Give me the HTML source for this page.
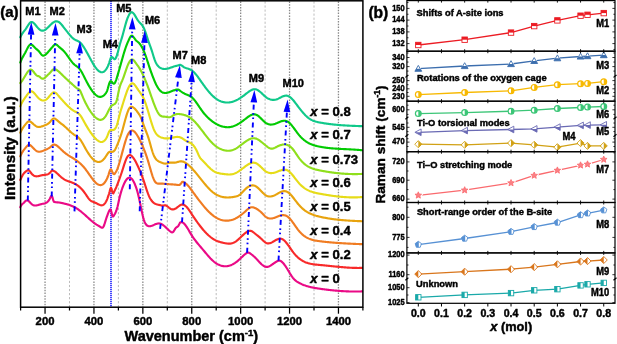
<!DOCTYPE html>
<html><head><meta charset="utf-8">
<style>
html,body{margin:0;padding:0;background:#fff;}
.w{position:absolute;left:0;top:0;width:617px;height:344px;background:#fff;}
svg{display:block;font-family:"Liberation Sans",sans-serif;will-change:transform;}
svg text{stroke:#000;stroke-width:0.45px;stroke-linejoin:round;}
</style></head><body>
<div class="w"></div>
<svg style="position:absolute;left:0;top:0" width="617" height="344" viewBox="0 0 617 344">

<line x1="45.05" y1="1.4" x2="45.05" y2="307.2" stroke="#8a8a8a" stroke-width="1.3" stroke-dasharray="1.5,1.3"/>
<line x1="69.50" y1="1.4" x2="69.50" y2="307.2" stroke="#bcbcbc" stroke-width="1.0" stroke-dasharray="2.2,1.85"/>
<line x1="93.95" y1="1.4" x2="93.95" y2="307.2" stroke="#8a8a8a" stroke-width="1.3" stroke-dasharray="1.5,1.3"/>
<line x1="118.40" y1="1.4" x2="118.40" y2="307.2" stroke="#bcbcbc" stroke-width="1.0" stroke-dasharray="2.2,1.85"/>
<line x1="142.85" y1="1.4" x2="142.85" y2="307.2" stroke="#8a8a8a" stroke-width="1.3" stroke-dasharray="1.5,1.3"/>
<line x1="167.30" y1="1.4" x2="167.30" y2="307.2" stroke="#bcbcbc" stroke-width="1.0" stroke-dasharray="2.2,1.85"/>
<line x1="191.75" y1="1.4" x2="191.75" y2="307.2" stroke="#8a8a8a" stroke-width="1.3" stroke-dasharray="1.5,1.3"/>
<line x1="216.20" y1="1.4" x2="216.20" y2="307.2" stroke="#bcbcbc" stroke-width="1.0" stroke-dasharray="2.2,1.85"/>
<line x1="240.65" y1="1.4" x2="240.65" y2="307.2" stroke="#8a8a8a" stroke-width="1.3" stroke-dasharray="1.5,1.3"/>
<line x1="265.10" y1="1.4" x2="265.10" y2="307.2" stroke="#bcbcbc" stroke-width="1.0" stroke-dasharray="2.2,1.85"/>
<line x1="289.55" y1="1.4" x2="289.55" y2="307.2" stroke="#8a8a8a" stroke-width="1.3" stroke-dasharray="1.5,1.3"/>
<line x1="314.00" y1="1.4" x2="314.00" y2="307.2" stroke="#bcbcbc" stroke-width="1.0" stroke-dasharray="2.2,1.85"/>
<line x1="338.45" y1="1.4" x2="338.45" y2="307.2" stroke="#8a8a8a" stroke-width="1.3" stroke-dasharray="1.5,1.3"/>
<line x1="111.0" y1="1.0" x2="111.0" y2="307.2" stroke="#1a1aff" stroke-width="1.6" stroke-dasharray="1.2,0.8"/>
<path d="M20.3,37.25 L20.9,36.01 L21.5,34.92 L22.1,33.94 L22.7,33.05 L23.3,32.23 L23.9,31.44 L24.5,30.67 L25.1,29.87 L25.7,29.03 L26.3,28.12 L26.9,27.16 L27.5,26.20 L28.1,25.25 L28.7,24.36 L29.3,23.56 L29.9,22.89 L30.5,22.37 L31.1,22.05 L31.7,21.96 L32.3,22.09 L32.9,22.40 L33.5,22.85 L34.1,23.42 L34.7,24.07 L35.3,24.77 L35.9,25.50 L36.5,26.23 L37.1,26.95 L37.7,27.63 L38.3,28.28 L38.9,28.87 L39.5,29.39 L40.1,29.84 L40.7,30.21 L41.3,30.48 L41.9,30.64 L42.5,30.68 L43.1,30.62 L43.7,30.47 L44.3,30.23 L44.9,29.91 L45.5,29.52 L46.1,29.07 L46.7,28.57 L47.3,28.03 L47.9,27.47 L48.5,26.87 L49.1,26.27 L49.7,25.66 L50.3,25.06 L50.9,24.48 L51.5,23.92 L52.1,23.39 L52.7,22.90 L53.3,22.47 L53.9,22.10 L54.5,21.79 L55.1,21.56 L55.7,21.40 L56.3,21.32 L56.9,21.33 L57.5,21.44 L58.1,21.65 L58.7,21.96 L59.3,22.37 L59.9,22.87 L60.5,23.45 L61.1,24.09 L61.7,24.78 L62.3,25.51 L62.9,26.27 L63.5,27.04 L64.1,27.81 L64.7,28.59 L65.3,29.37 L65.9,30.15 L66.5,30.93 L67.1,31.69 L67.7,32.46 L68.3,33.21 L68.9,33.94 L69.5,34.67 L70.1,35.37 L70.7,36.04 L71.3,36.69 L71.9,37.30 L72.5,37.86 L73.1,38.39 L73.7,38.86 L74.3,39.27 L74.9,39.63 L75.5,39.94 L76.1,40.22 L76.7,40.49 L77.3,40.76 L77.9,41.05 L78.5,41.37 L79.1,41.75 L79.7,42.19 L80.3,42.71 L80.9,43.31 L81.5,43.99 L82.1,44.73 L82.7,45.54 L83.3,46.41 L83.9,47.32 L84.5,48.28 L85.1,49.27 L85.7,50.30 L86.3,51.35 L86.9,52.43 L87.5,53.53 L88.1,54.63 L88.7,55.75 L89.3,56.86 L89.9,57.98 L90.5,59.09 L91.1,60.18 L91.7,61.26 L92.3,62.32 L92.9,63.35 L93.5,64.35 L94.1,65.31 L94.7,66.23 L95.3,67.11 L95.9,67.93 L96.5,68.70 L97.1,69.41 L97.7,70.05 L98.3,70.62 L98.9,71.11 L99.5,71.52 L100.1,71.85 L100.7,72.09 L101.3,72.23 L101.9,72.27 L102.5,72.20 L103.1,72.03 L103.7,71.74 L104.3,71.33 L104.9,70.79 L105.5,70.13 L106.1,69.33 L106.7,68.40 L107.3,67.36 L107.9,66.19 L108.5,64.80 L109.1,63.08 L109.7,61.13 L110.3,59.24 L110.9,57.75 L111.5,56.95 L112.1,56.95 L112.7,57.47 L113.3,58.21 L113.9,58.88 L114.5,59.19 L115.1,58.95 L115.7,58.21 L116.3,57.01 L116.9,55.39 L117.5,53.41 L118.1,51.19 L118.7,48.84 L119.3,46.50 L119.9,44.27 L120.5,42.23 L121.1,40.29 L121.7,38.38 L122.3,36.40 L122.9,34.29 L123.5,32.07 L124.1,29.79 L124.7,27.50 L125.3,25.25 L125.9,23.10 L126.5,21.10 L127.1,19.29 L127.7,17.71 L128.3,16.35 L128.9,15.11 L129.5,13.98 L130.1,13.05 L130.7,12.44 L131.3,12.18 L131.9,12.20 L132.5,12.49 L133.1,12.98 L133.7,13.65 L134.3,14.46 L134.9,15.38 L135.5,16.37 L136.1,17.39 L136.7,18.42 L137.3,19.42 L137.9,20.35 L138.5,21.18 L139.1,21.90 L139.7,22.55 L140.3,23.16 L140.9,23.77 L141.5,24.43 L142.1,25.16 L142.7,26.01 L143.3,27.01 L143.9,28.20 L144.5,29.60 L145.1,31.17 L145.7,32.88 L146.3,34.68 L146.9,36.54 L147.5,38.41 L148.1,40.26 L148.7,42.04 L149.3,43.72 L149.9,45.34 L150.5,46.95 L151.1,48.61 L151.7,50.38 L152.3,52.30 L152.9,54.31 L153.5,56.31 L154.1,58.22 L154.7,59.93 L155.3,61.42 L155.9,62.72 L156.5,63.83 L157.1,64.77 L157.7,65.57 L158.3,66.25 L158.9,66.81 L159.5,67.29 L160.1,67.69 L160.7,68.03 L161.3,68.31 L161.9,68.54 L162.5,68.72 L163.1,68.84 L163.7,68.93 L164.3,68.97 L164.9,68.97 L165.5,68.94 L166.1,68.87 L166.7,68.78 L167.3,68.66 L167.9,68.51 L168.5,68.35 L169.1,68.17 L169.7,67.98 L170.3,67.78 L170.9,67.58 L171.5,67.37 L172.1,67.15 L172.7,66.94 L173.3,66.74 L173.9,66.54 L174.5,66.35 L175.1,66.17 L175.7,66.01 L176.3,65.86 L176.9,65.72 L177.5,65.56 L178.1,65.38 L178.7,65.16 L179.3,64.96 L179.9,64.86 L180.5,64.94 L181.1,65.18 L181.7,65.54 L182.3,65.97 L182.9,66.43 L183.5,66.88 L184.1,67.27 L184.7,67.58 L185.3,67.84 L185.9,68.05 L186.5,68.24 L187.1,68.42 L187.7,68.59 L188.3,68.77 L188.9,68.97 L189.5,69.19 L190.1,69.45 L190.7,69.74 L191.3,70.09 L191.9,70.49 L192.5,70.95 L193.1,71.46 L193.7,72.01 L194.3,72.61 L194.9,73.26 L195.5,73.94 L196.1,74.65 L196.7,75.40 L197.3,76.17 L197.9,76.96 L198.5,77.77 L199.1,78.60 L199.7,79.45 L200.3,80.30 L200.9,81.15 L201.5,82.01 L202.1,82.86 L202.7,83.71 L203.3,84.55 L203.9,85.38 L204.5,86.21 L205.1,87.02 L205.7,87.82 L206.3,88.60 L206.9,89.38 L207.5,90.13 L208.1,90.88 L208.7,91.60 L209.3,92.30 L209.9,92.99 L210.5,93.65 L211.1,94.30 L211.7,94.92 L212.3,95.52 L212.9,96.09 L213.5,96.63 L214.1,97.15 L214.7,97.65 L215.3,98.12 L215.9,98.56 L216.5,98.98 L217.1,99.38 L217.7,99.75 L218.3,100.10 L218.9,100.42 L219.5,100.72 L220.1,100.99 L220.7,101.25 L221.3,101.48 L221.9,101.68 L222.5,101.86 L223.1,102.03 L223.7,102.16 L224.3,102.28 L224.9,102.37 L225.5,102.45 L226.1,102.50 L226.7,102.53 L227.3,102.54 L227.9,102.52 L228.5,102.49 L229.1,102.44 L229.7,102.36 L230.3,102.27 L230.9,102.16 L231.5,102.02 L232.1,101.87 L232.7,101.70 L233.3,101.50 L233.9,101.29 L234.5,101.06 L235.1,100.82 L235.7,100.55 L236.3,100.27 L236.9,99.97 L237.5,99.66 L238.1,99.33 L238.7,98.98 L239.3,98.62 L239.9,98.25 L240.5,97.87 L241.1,97.47 L241.7,97.06 L242.3,96.64 L242.9,96.21 L243.5,95.77 L244.1,95.32 L244.7,94.86 L245.3,94.40 L245.9,93.92 L246.5,93.45 L247.1,92.98 L247.7,92.51 L248.3,92.05 L248.9,91.62 L249.5,91.20 L250.1,90.81 L250.7,90.45 L251.3,90.13 L251.9,89.85 L252.5,89.61 L253.1,89.42 L253.7,89.29 L254.3,89.21 L254.9,89.20 L255.5,89.26 L256.1,89.40 L256.7,89.60 L257.3,89.88 L257.9,90.21 L258.5,90.59 L259.1,91.03 L259.7,91.50 L260.3,92.00 L260.9,92.53 L261.5,93.08 L262.1,93.64 L262.7,94.21 L263.3,94.78 L263.9,95.34 L264.5,95.89 L265.1,96.41 L265.7,96.91 L266.3,97.38 L266.9,97.80 L267.5,98.19 L268.1,98.53 L268.7,98.84 L269.3,99.11 L269.9,99.33 L270.5,99.52 L271.1,99.67 L271.7,99.79 L272.3,99.86 L272.9,99.90 L273.5,99.90 L274.1,99.87 L274.7,99.79 L275.3,99.69 L275.9,99.54 L276.5,99.37 L277.1,99.15 L277.7,98.91 L278.3,98.64 L278.9,98.35 L279.5,98.05 L280.1,97.74 L280.7,97.44 L281.3,97.13 L281.9,96.84 L282.5,96.57 L283.1,96.32 L283.7,96.10 L284.3,95.92 L284.9,95.78 L285.5,95.69 L286.1,95.65 L286.7,95.68 L287.3,95.77 L287.9,95.94 L288.5,96.18 L289.1,96.50 L289.7,96.88 L290.3,97.33 L290.9,97.83 L291.5,98.39 L292.1,98.99 L292.7,99.64 L293.3,100.33 L293.9,101.04 L294.5,101.79 L295.1,102.55 L295.7,103.34 L296.3,104.14 L296.9,104.94 L297.5,105.75 L298.1,106.55 L298.7,107.34 L299.3,108.13 L299.9,108.90 L300.5,109.66 L301.1,110.41 L301.7,111.14 L302.3,111.86 L302.9,112.56 L303.5,113.23 L304.1,113.89 L304.7,114.53 L305.3,115.15 L305.9,115.74 L306.5,116.30 L307.1,116.84 L307.7,117.35 L308.3,117.84 L308.9,118.29 L309.5,118.71 L310.1,119.11 L310.7,119.47 L311.3,119.80 L311.9,120.11 L312.5,120.39 L313.1,120.65 L313.7,120.89 L314.3,121.11 L314.9,121.31 L315.5,121.50 L316.1,121.67 L316.7,121.82 L317.3,121.97 L317.9,122.11 L318.5,122.23 L319.1,122.36 L319.7,122.47 L320.3,122.59 L320.9,122.70 L321.5,122.81 L322.1,122.91 L322.7,123.02 L323.3,123.12 L323.9,123.22 L324.5,123.32 L325.1,123.41 L325.7,123.50 L326.3,123.59 L326.9,123.68 L327.5,123.76 L328.1,123.85 L328.7,123.93 L329.3,124.01 L329.9,124.08 L330.5,124.16 L331.1,124.23 L331.7,124.30 L332.3,124.37 L332.9,124.44 L333.5,124.50 L334.1,124.56 L334.7,124.63 L335.3,124.69 L335.9,124.74 L336.5,124.80 L337.1,124.86 L337.7,124.91 L338.3,124.96 L338.9,125.01 L339.5,125.06 L340.1,125.11 L340.7,125.15 L341.3,125.20 L341.9,125.24 L342.5,125.28 L343.1,125.32 L343.7,125.36 L344.3,125.40 L344.9,125.44 L345.5,125.47 L346.1,125.51 L346.7,125.54 L347.3,125.58 L347.9,125.61 L348.5,125.64 L349.1,125.67 L349.7,125.70 L350.3,125.73 L350.9,125.76 L351.5,125.79 L352.1,125.81 L352.7,125.84 L353.3,125.87 L353.9,125.89 L354.5,125.91 L355.1,125.94 L355.7,125.96 L356.3,125.99 L356.9,126.01 L357.5,126.03 L358.1,126.05 L358.7,126.08 L359.3,126.10 L359.9,126.12 L360.5,126.14 L361.1,126.16 L361.7,126.18 L362.0,126.20" fill="none" stroke="#10c98a" stroke-width="2.15" stroke-linejoin="round" stroke-linecap="round"/>
<path d="M20.3,62.53 L20.9,60.96 L21.5,59.58 L22.1,58.33 L22.7,57.19 L23.3,56.11 L23.9,55.08 L24.5,54.05 L25.1,52.99 L25.7,51.87 L26.3,50.65 L26.9,49.39 L27.5,48.16 L28.1,47.02 L28.7,46.06 L29.3,45.33 L29.9,44.84 L30.5,44.59 L31.1,44.56 L31.7,44.75 L32.3,45.12 L32.9,45.62 L33.5,46.21 L34.1,46.84 L34.7,47.45 L35.3,48.04 L35.9,48.60 L36.5,49.13 L37.1,49.64 L37.7,50.15 L38.3,50.69 L38.9,51.31 L39.5,52.03 L40.1,52.85 L40.7,53.69 L41.3,54.46 L41.9,55.06 L42.5,55.44 L43.1,55.61 L43.7,55.59 L44.3,55.41 L44.9,55.09 L45.5,54.66 L46.1,54.13 L46.7,53.54 L47.3,52.90 L47.9,52.25 L48.5,51.57 L49.1,50.88 L49.7,50.18 L50.3,49.48 L50.9,48.77 L51.5,48.07 L52.1,47.36 L52.7,46.67 L53.3,45.99 L53.9,45.37 L54.5,44.86 L55.1,44.52 L55.7,44.40 L56.3,44.56 L56.9,44.93 L57.5,45.45 L58.1,46.02 L58.7,46.59 L59.3,47.11 L59.9,47.61 L60.5,48.10 L61.1,48.58 L61.7,49.08 L62.3,49.60 L62.9,50.15 L63.5,50.76 L64.1,51.42 L64.7,52.12 L65.3,52.87 L65.9,53.65 L66.5,54.45 L67.1,55.28 L67.7,56.13 L68.3,56.98 L68.9,57.83 L69.5,58.68 L70.1,59.51 L70.7,60.33 L71.3,61.12 L71.9,61.88 L72.5,62.60 L73.1,63.28 L73.7,63.91 L74.3,64.47 L74.9,64.98 L75.5,65.44 L76.1,65.88 L76.7,66.31 L77.3,66.75 L77.9,67.23 L78.5,67.76 L79.1,68.36 L79.7,69.06 L80.3,69.87 L80.9,70.78 L81.5,71.77 L82.1,72.84 L82.7,73.96 L83.3,75.13 L83.9,76.31 L84.5,77.51 L85.1,78.70 L85.7,79.87 L86.3,81.03 L86.9,82.16 L87.5,83.27 L88.1,84.36 L88.7,85.42 L89.3,86.44 L89.9,87.44 L90.5,88.39 L91.1,89.31 L91.7,90.19 L92.3,91.03 L92.9,91.82 L93.5,92.56 L94.1,93.25 L94.7,93.89 L95.3,94.48 L95.9,95.00 L96.5,95.47 L97.1,95.88 L97.7,96.22 L98.3,96.49 L98.9,96.69 L99.5,96.82 L100.1,96.88 L100.7,96.86 L101.3,96.76 L101.9,96.57 L102.5,96.31 L103.1,95.95 L103.7,95.51 L104.3,94.97 L104.9,94.34 L105.5,93.62 L106.1,92.79 L106.7,91.75 L107.3,90.29 L107.9,88.31 L108.5,86.09 L109.1,83.99 L109.7,82.33 L110.3,81.35 L110.9,81.19 L111.5,81.58 L112.1,82.23 L112.7,82.92 L113.3,83.47 L113.9,83.70 L114.5,83.40 L115.1,82.52 L115.7,81.17 L116.3,79.49 L116.9,77.62 L117.5,75.66 L118.1,73.64 L118.7,71.57 L119.3,69.46 L119.9,67.31 L120.5,65.16 L121.1,63.00 L121.7,60.85 L122.3,58.72 L122.9,56.62 L123.5,54.56 L124.1,52.56 L124.7,50.63 L125.3,48.78 L125.9,47.02 L126.5,45.37 L127.1,43.83 L127.7,42.41 L128.3,41.08 L128.9,39.77 L129.5,38.46 L130.1,37.28 L130.7,36.36 L131.3,35.80 L131.9,35.68 L132.5,36.00 L133.1,36.59 L133.7,37.32 L134.3,38.13 L134.9,38.96 L135.5,39.74 L136.1,40.41 L136.7,40.98 L137.3,41.48 L137.9,41.97 L138.5,42.49 L139.1,43.10 L139.7,43.78 L140.3,44.54 L140.9,45.40 L141.5,46.35 L142.1,47.40 L142.7,48.56 L143.3,49.83 L143.9,51.21 L144.5,52.71 L145.1,54.30 L145.7,55.98 L146.3,57.72 L146.9,59.51 L147.5,61.33 L148.1,63.16 L148.7,64.99 L149.3,66.80 L149.9,68.59 L150.5,70.34 L151.1,72.05 L151.7,73.72 L152.3,75.35 L152.9,76.94 L153.5,78.47 L154.1,79.94 L154.7,81.35 L155.3,82.69 L155.9,83.97 L156.5,85.17 L157.1,86.30 L157.7,87.34 L158.3,88.30 L158.9,89.17 L159.5,89.94 L160.1,90.62 L160.7,91.20 L161.3,91.68 L161.9,92.08 L162.5,92.40 L163.1,92.64 L163.7,92.81 L164.3,92.92 L164.9,92.97 L165.5,92.97 L166.1,92.92 L166.7,92.83 L167.3,92.70 L167.9,92.54 L168.5,92.36 L169.1,92.16 L169.7,91.94 L170.3,91.72 L170.9,91.49 L171.5,91.26 L172.1,91.04 L172.7,90.81 L173.3,90.59 L173.9,90.38 L174.5,90.18 L175.1,89.99 L175.7,89.81 L176.3,89.64 L176.9,89.52 L177.5,89.48 L178.1,89.56 L178.7,89.78 L179.3,90.13 L179.9,90.56 L180.5,91.03 L181.1,91.50 L181.7,91.93 L182.3,92.33 L182.9,92.71 L183.5,93.06 L184.1,93.38 L184.7,93.69 L185.3,93.97 L185.9,94.24 L186.5,94.49 L187.1,94.73 L187.7,94.96 L188.3,95.21 L188.9,95.47 L189.5,95.76 L190.1,96.08 L190.7,96.46 L191.3,96.89 L191.9,97.38 L192.5,97.93 L193.1,98.54 L193.7,99.20 L194.3,99.91 L194.9,100.66 L195.5,101.44 L196.1,102.25 L196.7,103.09 L197.3,103.95 L197.9,104.82 L198.5,105.70 L199.1,106.59 L199.7,107.48 L200.3,108.36 L200.9,109.23 L201.5,110.08 L202.1,110.91 L202.7,111.72 L203.3,112.49 L203.9,113.25 L204.5,113.97 L205.1,114.67 L205.7,115.35 L206.3,116.00 L206.9,116.62 L207.5,117.23 L208.1,117.81 L208.7,118.37 L209.3,118.92 L209.9,119.44 L210.5,119.94 L211.1,120.43 L211.7,120.89 L212.3,121.35 L212.9,121.78 L213.5,122.20 L214.1,122.60 L214.7,122.99 L215.3,123.37 L215.9,123.72 L216.5,124.06 L217.1,124.39 L217.7,124.69 L218.3,124.98 L218.9,125.26 L219.5,125.51 L220.1,125.75 L220.7,125.97 L221.3,126.18 L221.9,126.36 L222.5,126.53 L223.1,126.68 L223.7,126.81 L224.3,126.92 L224.9,127.02 L225.5,127.09 L226.1,127.15 L226.7,127.19 L227.3,127.20 L227.9,127.20 L228.5,127.18 L229.1,127.14 L229.7,127.08 L230.3,126.99 L230.9,126.89 L231.5,126.77 L232.1,126.62 L232.7,126.46 L233.3,126.27 L233.9,126.06 L234.5,125.83 L235.1,125.58 L235.7,125.31 L236.3,125.02 L236.9,124.71 L237.5,124.39 L238.1,124.05 L238.7,123.69 L239.3,123.32 L239.9,122.93 L240.5,122.53 L241.1,122.12 L241.7,121.70 L242.3,121.27 L242.9,120.83 L243.5,120.39 L244.1,119.94 L244.7,119.48 L245.3,119.01 L245.9,118.55 L246.5,118.08 L247.1,117.63 L247.7,117.18 L248.3,116.74 L248.9,116.33 L249.5,115.94 L250.1,115.59 L250.7,115.26 L251.3,114.98 L251.9,114.74 L252.5,114.55 L253.1,114.41 L253.7,114.33 L254.3,114.31 L254.9,114.36 L255.5,114.49 L256.1,114.69 L256.7,114.97 L257.3,115.31 L257.9,115.72 L258.5,116.17 L259.1,116.67 L259.7,117.21 L260.3,117.77 L260.9,118.36 L261.5,118.96 L262.1,119.56 L262.7,120.15 L263.3,120.74 L263.9,121.31 L264.5,121.84 L265.1,122.35 L265.7,122.80 L266.3,123.21 L266.9,123.56 L267.5,123.85 L268.1,124.09 L268.7,124.28 L269.3,124.42 L269.9,124.51 L270.5,124.56 L271.1,124.57 L271.7,124.54 L272.3,124.48 L272.9,124.38 L273.5,124.25 L274.1,124.10 L274.7,123.93 L275.3,123.73 L275.9,123.51 L276.5,123.28 L277.1,123.04 L277.7,122.78 L278.3,122.52 L278.9,122.26 L279.5,122.01 L280.1,121.77 L280.7,121.54 L281.3,121.33 L281.9,121.15 L282.5,120.99 L283.1,120.87 L283.7,120.79 L284.3,120.76 L284.9,120.77 L285.5,120.83 L286.1,120.96 L286.7,121.15 L287.3,121.40 L287.9,121.73 L288.5,122.13 L289.1,122.61 L289.7,123.15 L290.3,123.74 L290.9,124.39 L291.5,125.08 L292.1,125.81 L292.7,126.57 L293.3,127.36 L293.9,128.17 L294.5,129.00 L295.1,129.83 L295.7,130.66 L296.3,131.49 L296.9,132.31 L297.5,133.11 L298.1,133.88 L298.7,134.63 L299.3,135.35 L299.9,136.03 L300.5,136.69 L301.1,137.32 L301.7,137.91 L302.3,138.49 L302.9,139.03 L303.5,139.55 L304.1,140.05 L304.7,140.52 L305.3,140.97 L305.9,141.39 L306.5,141.79 L307.1,142.18 L307.7,142.54 L308.3,142.88 L308.9,143.20 L309.5,143.51 L310.1,143.80 L310.7,144.07 L311.3,144.32 L311.9,144.56 L312.5,144.79 L313.1,145.00 L313.7,145.20 L314.3,145.39 L314.9,145.57 L315.5,145.74 L316.1,145.90 L316.7,146.05 L317.3,146.19 L317.9,146.32 L318.5,146.45 L319.1,146.57 L319.7,146.69 L320.3,146.80 L320.9,146.91 L321.5,147.02 L322.1,147.12 L322.7,147.21 L323.3,147.31 L323.9,147.40 L324.5,147.49 L325.1,147.57 L325.7,147.65 L326.3,147.73 L326.9,147.81 L327.5,147.88 L328.1,147.95 L328.7,148.01 L329.3,148.08 L329.9,148.14 L330.5,148.20 L331.1,148.26 L331.7,148.31 L332.3,148.36 L332.9,148.41 L333.5,148.46 L334.1,148.51 L334.7,148.55 L335.3,148.59 L335.9,148.64 L336.5,148.68 L337.1,148.71 L337.7,148.75 L338.3,148.79 L338.9,148.82 L339.5,148.86 L340.1,148.89 L340.7,148.92 L341.3,148.95 L341.9,148.98 L342.5,149.01 L343.1,149.04 L343.7,149.07 L344.3,149.10 L344.9,149.13 L345.5,149.15 L346.1,149.18 L346.7,149.21 L347.3,149.24 L347.9,149.27 L348.5,149.30 L349.1,149.33 L349.7,149.35 L350.3,149.39 L350.9,149.42 L351.5,149.45 L352.1,149.48 L352.7,149.51 L353.3,149.55 L353.9,149.59 L354.5,149.62 L355.1,149.66 L355.7,149.70 L356.3,149.74 L356.9,149.79 L357.5,149.83 L358.1,149.88 L358.7,149.93 L359.3,149.98 L359.9,150.03 L360.5,150.08 L361.1,150.14 L361.7,150.20 L362.0,150.23" fill="none" stroke="#02cb02" stroke-width="2.15" stroke-linejoin="round" stroke-linecap="round"/>
<path d="M20.3,83.06 L20.9,82.42 L21.5,81.67 L22.1,80.84 L22.7,79.94 L23.3,78.98 L23.9,77.99 L24.5,76.98 L25.1,75.95 L25.7,74.94 L26.3,73.96 L26.9,73.02 L27.5,72.15 L28.1,71.38 L28.7,70.72 L29.3,70.19 L29.9,69.83 L30.5,69.65 L31.1,69.68 L31.7,69.93 L32.3,70.38 L32.9,70.99 L33.5,71.71 L34.1,72.49 L34.7,73.29 L35.3,74.06 L35.9,74.74 L36.5,75.31 L37.1,75.70 L37.7,75.94 L38.3,76.13 L38.9,76.34 L39.5,76.69 L40.1,77.18 L40.7,77.72 L41.3,78.22 L41.9,78.58 L42.5,78.73 L43.1,78.69 L43.7,78.48 L44.3,78.14 L44.9,77.69 L45.5,77.17 L46.1,76.59 L46.7,75.99 L47.3,75.40 L47.9,74.83 L48.5,74.28 L49.1,73.72 L49.7,73.13 L50.3,72.49 L50.9,71.79 L51.5,71.08 L52.1,70.42 L52.7,69.88 L53.3,69.49 L53.9,69.28 L54.5,69.21 L55.1,69.28 L55.7,69.47 L56.3,69.76 L56.9,70.12 L57.5,70.56 L58.1,71.04 L58.7,71.55 L59.3,72.09 L59.9,72.64 L60.5,73.21 L61.1,73.80 L61.7,74.39 L62.3,74.98 L62.9,75.57 L63.5,76.16 L64.1,76.74 L64.7,77.31 L65.3,77.88 L65.9,78.44 L66.5,79.00 L67.1,79.55 L67.7,80.10 L68.3,80.65 L68.9,81.19 L69.5,81.74 L70.1,82.28 L70.7,82.82 L71.3,83.36 L71.9,83.90 L72.5,84.45 L73.1,84.99 L73.7,85.54 L74.3,86.09 L74.9,86.65 L75.5,87.18 L76.1,87.68 L76.7,88.12 L77.3,88.48 L77.9,88.76 L78.5,89.05 L79.1,89.47 L79.7,90.11 L80.3,91.08 L80.9,92.32 L81.5,93.73 L82.1,95.21 L82.7,96.67 L83.3,98.07 L83.9,99.42 L84.5,100.71 L85.1,101.97 L85.7,103.18 L86.3,104.36 L86.9,105.50 L87.5,106.60 L88.1,107.66 L88.7,108.68 L89.3,109.66 L89.9,110.60 L90.5,111.50 L91.1,112.36 L91.7,113.18 L92.3,113.96 L92.9,114.70 L93.5,115.40 L94.1,116.05 L94.7,116.66 L95.3,117.24 L95.9,117.76 L96.5,118.25 L97.1,118.67 L97.7,119.05 L98.3,119.35 L98.9,119.60 L99.5,119.76 L100.1,119.86 L100.7,119.86 L101.3,119.78 L101.9,119.61 L102.5,119.34 L103.1,118.97 L103.7,118.48 L104.3,117.89 L104.9,117.17 L105.5,116.34 L106.1,115.37 L106.7,114.29 L107.3,113.14 L107.9,111.94 L108.5,110.74 L109.1,109.57 L109.7,108.46 L110.3,107.46 L110.9,106.59 L111.5,105.90 L112.1,105.38 L112.7,104.99 L113.3,104.68 L113.9,104.39 L114.5,104.08 L115.1,103.65 L115.7,102.90 L116.3,101.66 L116.9,99.75 L117.5,97.13 L118.1,94.16 L118.7,91.25 L119.3,88.63 L119.9,86.40 L120.5,84.61 L121.1,83.12 L121.7,81.79 L122.3,80.44 L122.9,78.96 L123.5,77.36 L124.1,75.65 L124.7,73.89 L125.3,72.10 L125.9,70.33 L126.5,68.60 L127.1,66.95 L127.7,65.41 L128.3,64.02 L128.9,62.77 L129.5,61.70 L130.1,60.82 L130.7,60.13 L131.3,59.67 L131.9,59.44 L132.5,59.45 L133.1,59.74 L133.7,60.26 L134.3,60.95 L134.9,61.76 L135.5,62.62 L136.1,63.46 L136.7,64.27 L137.3,65.07 L137.9,65.88 L138.5,66.73 L139.1,67.64 L139.7,68.61 L140.3,69.63 L140.9,70.71 L141.5,71.84 L142.1,73.02 L142.7,74.25 L143.3,75.53 L143.9,76.85 L144.5,78.22 L145.1,79.64 L145.7,81.09 L146.3,82.59 L146.9,84.13 L147.5,85.70 L148.1,87.32 L148.7,88.96 L149.3,90.64 L149.9,92.35 L150.5,94.07 L151.1,95.80 L151.7,97.52 L152.3,99.23 L152.9,100.91 L153.5,102.55 L154.1,104.15 L154.7,105.69 L155.3,107.17 L155.9,108.57 L156.5,109.88 L157.1,111.10 L157.7,112.21 L158.3,113.20 L158.9,114.06 L159.5,114.79 L160.1,115.37 L160.7,115.81 L161.3,116.13 L161.9,116.35 L162.5,116.49 L163.1,116.58 L163.7,116.63 L164.3,116.66 L164.9,116.70 L165.5,116.77 L166.1,116.87 L166.7,116.99 L167.3,117.11 L167.9,117.21 L168.5,117.27 L169.1,117.28 L169.7,117.22 L170.3,117.07 L170.9,116.81 L171.5,116.48 L172.1,116.11 L172.7,115.72 L173.3,115.34 L173.9,115.01 L174.5,114.73 L175.1,114.50 L175.7,114.31 L176.3,114.18 L176.9,114.08 L177.5,114.03 L178.1,114.01 L178.7,114.03 L179.3,114.07 L179.9,114.13 L180.5,114.21 L181.1,114.30 L181.7,114.40 L182.3,114.51 L182.9,114.64 L183.5,114.78 L184.1,114.94 L184.7,115.11 L185.3,115.30 L185.9,115.52 L186.5,115.75 L187.1,116.01 L187.7,116.29 L188.3,116.59 L188.9,116.93 L189.5,117.29 L190.1,117.67 L190.7,118.09 L191.3,118.54 L191.9,119.02 L192.5,119.54 L193.1,120.08 L193.7,120.65 L194.3,121.25 L194.9,121.87 L195.5,122.51 L196.1,123.18 L196.7,123.86 L197.3,124.56 L197.9,125.28 L198.5,126.02 L199.1,126.76 L199.7,127.52 L200.3,128.29 L200.9,129.06 L201.5,129.84 L202.1,130.63 L202.7,131.42 L203.3,132.21 L203.9,133.00 L204.5,133.79 L205.1,134.57 L205.7,135.35 L206.3,136.12 L206.9,136.88 L207.5,137.64 L208.1,138.38 L208.7,139.11 L209.3,139.82 L209.9,140.52 L210.5,141.19 L211.1,141.85 L211.7,142.48 L212.3,143.10 L212.9,143.68 L213.5,144.24 L214.1,144.78 L214.7,145.29 L215.3,145.77 L215.9,146.23 L216.5,146.66 L217.1,147.07 L217.7,147.46 L218.3,147.82 L218.9,148.16 L219.5,148.48 L220.1,148.78 L220.7,149.05 L221.3,149.30 L221.9,149.54 L222.5,149.75 L223.1,149.94 L223.7,150.11 L224.3,150.26 L224.9,150.40 L225.5,150.51 L226.1,150.60 L226.7,150.67 L227.3,150.71 L227.9,150.74 L228.5,150.74 L229.1,150.72 L229.7,150.67 L230.3,150.59 L230.9,150.50 L231.5,150.37 L232.1,150.22 L232.7,150.03 L233.3,149.82 L233.9,149.58 L234.5,149.32 L235.1,149.02 L235.7,148.69 L236.3,148.34 L236.9,147.97 L237.5,147.58 L238.1,147.17 L238.7,146.74 L239.3,146.31 L239.9,145.86 L240.5,145.40 L241.1,144.94 L241.7,144.48 L242.3,144.02 L242.9,143.55 L243.5,143.09 L244.1,142.64 L244.7,142.20 L245.3,141.76 L245.9,141.34 L246.5,140.94 L247.1,140.56 L247.7,140.19 L248.3,139.85 L248.9,139.54 L249.5,139.25 L250.1,138.99 L250.7,138.77 L251.3,138.58 L251.9,138.43 L252.5,138.32 L253.1,138.25 L253.7,138.22 L254.3,138.24 L254.9,138.32 L255.5,138.44 L256.1,138.62 L256.7,138.85 L257.3,139.13 L257.9,139.45 L258.5,139.81 L259.1,140.20 L259.7,140.63 L260.3,141.08 L260.9,141.55 L261.5,142.03 L262.1,142.52 L262.7,143.03 L263.3,143.53 L263.9,144.04 L264.5,144.54 L265.1,145.04 L265.7,145.53 L266.3,146.01 L266.9,146.47 L267.5,146.91 L268.1,147.31 L268.7,147.68 L269.3,148.00 L269.9,148.26 L270.5,148.46 L271.1,148.60 L271.7,148.65 L272.3,148.62 L272.9,148.52 L273.5,148.35 L274.1,148.13 L274.7,147.86 L275.3,147.57 L275.9,147.26 L276.5,146.94 L277.1,146.63 L277.7,146.33 L278.3,146.04 L278.9,145.78 L279.5,145.53 L280.1,145.30 L280.7,145.10 L281.3,144.92 L281.9,144.76 L282.5,144.64 L283.1,144.55 L283.7,144.49 L284.3,144.47 L284.9,144.49 L285.5,144.55 L286.1,144.64 L286.7,144.79 L287.3,144.97 L287.9,145.21 L288.5,145.50 L289.1,145.83 L289.7,146.23 L290.3,146.67 L290.9,147.17 L291.5,147.72 L292.1,148.34 L292.7,149.01 L293.3,149.74 L293.9,150.52 L294.5,151.36 L295.1,152.24 L295.7,153.14 L296.3,154.05 L296.9,154.96 L297.5,155.86 L298.1,156.74 L298.7,157.58 L299.3,158.39 L299.9,159.16 L300.5,159.89 L301.1,160.59 L301.7,161.25 L302.3,161.88 L302.9,162.48 L303.5,163.04 L304.1,163.58 L304.7,164.09 L305.3,164.56 L305.9,165.02 L306.5,165.44 L307.1,165.84 L307.7,166.22 L308.3,166.58 L308.9,166.91 L309.5,167.22 L310.1,167.52 L310.7,167.79 L311.3,168.05 L311.9,168.29 L312.5,168.51 L313.1,168.72 L313.7,168.92 L314.3,169.10 L314.9,169.28 L315.5,169.44 L316.1,169.59 L316.7,169.74 L317.3,169.88 L317.9,170.01 L318.5,170.14 L319.1,170.26 L319.7,170.39 L320.3,170.50 L320.9,170.62 L321.5,170.74 L322.1,170.85 L322.7,170.96 L323.3,171.07 L323.9,171.18 L324.5,171.29 L325.1,171.39 L325.7,171.50 L326.3,171.60 L326.9,171.70 L327.5,171.80 L328.1,171.89 L328.7,171.98 L329.3,172.08 L329.9,172.17 L330.5,172.26 L331.1,172.34 L331.7,172.43 L332.3,172.51 L332.9,172.59 L333.5,172.67 L334.1,172.74 L334.7,172.82 L335.3,172.89 L335.9,172.96 L336.5,173.03 L337.1,173.10 L337.7,173.16 L338.3,173.22 L338.9,173.29 L339.5,173.34 L340.1,173.40 L340.7,173.45 L341.3,173.51 L341.9,173.56 L342.5,173.60 L343.1,173.65 L343.7,173.69 L344.3,173.73 L344.9,173.77 L345.5,173.81 L346.1,173.84 L346.7,173.88 L347.3,173.91 L347.9,173.93 L348.5,173.96 L349.1,173.98 L349.7,174.00 L350.3,174.02 L350.9,174.04 L351.5,174.05 L352.1,174.06 L352.7,174.07 L353.3,174.08 L353.9,174.08 L354.5,174.09 L355.1,174.09 L355.7,174.08 L356.3,174.08 L356.9,174.07 L357.5,174.06 L358.1,174.05 L358.7,174.03 L359.3,174.02 L359.9,174.00 L360.5,173.97 L361.1,173.95 L361.7,173.92 L362.0,173.91" fill="none" stroke="#8fdf1c" stroke-width="2.15" stroke-linejoin="round" stroke-linecap="round"/>
<path d="M20.3,106.36 L20.9,104.90 L21.5,103.59 L22.1,102.41 L22.7,101.34 L23.3,100.36 L23.9,99.44 L24.5,98.58 L25.1,97.74 L25.7,96.91 L26.3,96.07 L26.9,95.23 L27.5,94.41 L28.1,93.65 L28.7,92.95 L29.3,92.36 L29.9,91.88 L30.5,91.54 L31.1,91.37 L31.7,91.39 L32.3,91.59 L32.9,91.94 L33.5,92.42 L34.1,93.01 L34.7,93.67 L35.3,94.38 L35.9,95.12 L36.5,95.86 L37.1,96.58 L37.7,97.25 L38.3,97.88 L38.9,98.45 L39.5,98.97 L40.1,99.42 L40.7,99.81 L41.3,100.12 L41.9,100.35 L42.5,100.49 L43.1,100.55 L43.7,100.53 L44.3,100.42 L44.9,100.23 L45.5,99.95 L46.1,99.58 L46.7,99.13 L47.3,98.59 L47.9,97.96 L48.5,97.28 L49.1,96.55 L49.7,95.82 L50.3,95.10 L50.9,94.41 L51.5,93.79 L52.1,93.26 L52.7,92.84 L53.3,92.56 L53.9,92.42 L54.5,92.43 L55.1,92.59 L55.7,92.90 L56.3,93.36 L56.9,93.94 L57.5,94.61 L58.1,95.32 L58.7,96.03 L59.3,96.73 L59.9,97.42 L60.5,98.11 L61.1,98.79 L61.7,99.46 L62.3,100.13 L62.9,100.79 L63.5,101.45 L64.1,102.11 L64.7,102.76 L65.3,103.40 L65.9,104.04 L66.5,104.66 L67.1,105.28 L67.7,105.88 L68.3,106.46 L68.9,107.03 L69.5,107.58 L70.1,108.11 L70.7,108.62 L71.3,109.10 L71.9,109.56 L72.5,110.00 L73.1,110.40 L73.7,110.78 L74.3,111.12 L74.9,111.43 L75.5,111.73 L76.1,112.02 L76.7,112.33 L77.3,112.67 L77.9,113.06 L78.5,113.51 L79.1,114.04 L79.7,114.67 L80.3,115.40 L80.9,116.24 L81.5,117.16 L82.1,118.15 L82.7,119.19 L83.3,120.27 L83.9,121.36 L84.5,122.46 L85.1,123.55 L85.7,124.61 L86.3,125.65 L86.9,126.67 L87.5,127.67 L88.1,128.64 L88.7,129.59 L89.3,130.51 L89.9,131.41 L90.5,132.29 L91.1,133.13 L91.7,133.95 L92.3,134.74 L92.9,135.51 L93.5,136.24 L94.1,136.95 L94.7,137.62 L95.3,138.27 L95.9,138.88 L96.5,139.46 L97.1,139.99 L97.7,140.48 L98.3,140.91 L98.9,141.28 L99.5,141.58 L100.1,141.80 L100.7,141.95 L101.3,142.00 L101.9,141.97 L102.5,141.83 L103.1,141.59 L103.7,141.24 L104.3,140.77 L104.9,140.17 L105.5,139.45 L106.1,138.59 L106.7,137.54 L107.3,136.24 L107.9,134.66 L108.5,133.05 L109.1,131.67 L109.7,130.70 L110.3,130.16 L110.9,130.02 L111.5,130.07 L112.1,130.13 L112.7,130.14 L113.3,130.05 L113.9,129.82 L114.5,129.41 L115.1,128.77 L115.7,127.85 L116.3,126.62 L116.9,125.01 L117.5,123.04 L118.1,120.80 L118.7,118.42 L119.3,116.01 L119.9,113.70 L120.5,111.55 L121.1,109.52 L121.7,107.58 L122.3,105.66 L122.9,103.73 L123.5,101.79 L124.1,99.86 L124.7,97.95 L125.3,96.09 L125.9,94.29 L126.5,92.58 L127.1,90.96 L127.7,89.46 L128.3,88.09 L128.9,86.87 L129.5,85.80 L130.1,84.91 L130.7,84.20 L131.3,83.69 L131.9,83.38 L132.5,83.30 L133.1,83.46 L133.7,83.83 L134.3,84.39 L134.9,85.09 L135.5,85.90 L136.1,86.76 L136.7,87.66 L137.3,88.57 L137.9,89.47 L138.5,90.34 L139.1,91.17 L139.7,91.99 L140.3,92.81 L140.9,93.66 L141.5,94.56 L142.1,95.52 L142.7,96.58 L143.3,97.74 L143.9,99.04 L144.5,100.47 L145.1,102.04 L145.7,103.73 L146.3,105.51 L146.9,107.38 L147.5,109.31 L148.1,111.30 L148.7,113.33 L149.3,115.38 L149.9,117.44 L150.5,119.47 L151.1,121.46 L151.7,123.38 L152.3,125.22 L152.9,126.95 L153.5,128.54 L154.1,129.99 L154.7,131.26 L155.3,132.35 L155.9,133.29 L156.5,134.10 L157.1,134.78 L157.7,135.35 L158.3,135.83 L158.9,136.24 L159.5,136.59 L160.1,136.90 L160.7,137.18 L161.3,137.43 L161.9,137.65 L162.5,137.83 L163.1,137.99 L163.7,138.13 L164.3,138.23 L164.9,138.32 L165.5,138.37 L166.1,138.41 L166.7,138.42 L167.3,138.41 L167.9,138.39 L168.5,138.34 L169.1,138.27 L169.7,138.19 L170.3,138.09 L170.9,137.98 L171.5,137.86 L172.1,137.73 L172.7,137.60 L173.3,137.47 L173.9,137.34 L174.5,137.23 L175.1,137.12 L175.7,137.04 L176.3,136.98 L176.9,136.94 L177.5,136.93 L178.1,136.96 L178.7,137.02 L179.3,137.13 L179.9,137.28 L180.5,137.49 L181.1,137.75 L181.7,138.06 L182.3,138.40 L182.9,138.78 L183.5,139.18 L184.1,139.59 L184.7,139.99 L185.3,140.38 L185.9,140.75 L186.5,141.08 L187.1,141.37 L187.7,141.64 L188.3,141.90 L188.9,142.16 L189.5,142.44 L190.1,142.74 L190.7,143.09 L191.3,143.49 L191.9,143.95 L192.5,144.49 L193.1,145.11 L193.7,145.81 L194.3,146.60 L194.9,147.48 L195.5,148.46 L196.1,149.53 L196.7,150.72 L197.3,152.01 L197.9,153.36 L198.5,154.71 L199.1,155.98 L199.7,157.11 L200.3,158.05 L200.9,158.83 L201.5,159.49 L202.1,160.09 L202.7,160.69 L203.3,161.31 L203.9,161.93 L204.5,162.57 L205.1,163.21 L205.7,163.85 L206.3,164.49 L206.9,165.13 L207.5,165.76 L208.1,166.38 L208.7,166.99 L209.3,167.58 L209.9,168.15 L210.5,168.70 L211.1,169.22 L211.7,169.72 L212.3,170.18 L212.9,170.61 L213.5,171.01 L214.1,171.37 L214.7,171.69 L215.3,171.99 L215.9,172.25 L216.5,172.49 L217.1,172.71 L217.7,172.90 L218.3,173.07 L218.9,173.23 L219.5,173.36 L220.1,173.48 L220.7,173.59 L221.3,173.69 L221.9,173.78 L222.5,173.86 L223.1,173.94 L223.7,174.02 L224.3,174.09 L224.9,174.16 L225.5,174.23 L226.1,174.30 L226.7,174.35 L227.3,174.40 L227.9,174.44 L228.5,174.46 L229.1,174.47 L229.7,174.46 L230.3,174.43 L230.9,174.38 L231.5,174.31 L232.1,174.22 L232.7,174.09 L233.3,173.94 L233.9,173.76 L234.5,173.55 L235.1,173.31 L235.7,173.04 L236.3,172.74 L236.9,172.41 L237.5,172.06 L238.1,171.69 L238.7,171.30 L239.3,170.89 L239.9,170.47 L240.5,170.04 L241.1,169.60 L241.7,169.15 L242.3,168.69 L242.9,168.23 L243.5,167.78 L244.1,167.32 L244.7,166.87 L245.3,166.42 L245.9,165.98 L246.5,165.56 L247.1,165.15 L247.7,164.76 L248.3,164.39 L248.9,164.04 L249.5,163.73 L250.1,163.45 L250.7,163.21 L251.3,163.00 L251.9,162.84 L252.5,162.73 L253.1,162.67 L253.7,162.66 L254.3,162.71 L254.9,162.82 L255.5,163.00 L256.1,163.24 L256.7,163.55 L257.3,163.92 L257.9,164.34 L258.5,164.81 L259.1,165.31 L259.7,165.84 L260.3,166.40 L260.9,166.98 L261.5,167.56 L262.1,168.14 L262.7,168.72 L263.3,169.29 L263.9,169.84 L264.5,170.36 L265.1,170.85 L265.7,171.29 L266.3,171.69 L266.9,172.03 L267.5,172.33 L268.1,172.57 L268.7,172.76 L269.3,172.91 L269.9,173.01 L270.5,173.07 L271.1,173.10 L271.7,173.09 L272.3,173.05 L272.9,172.97 L273.5,172.87 L274.1,172.74 L274.7,172.59 L275.3,172.42 L275.9,172.22 L276.5,172.02 L277.1,171.79 L277.7,171.56 L278.3,171.32 L278.9,171.09 L279.5,170.85 L280.1,170.63 L280.7,170.42 L281.3,170.22 L281.9,170.05 L282.5,169.91 L283.1,169.80 L283.7,169.72 L284.3,169.69 L284.9,169.70 L285.5,169.77 L286.1,169.89 L286.7,170.07 L287.3,170.31 L287.9,170.63 L288.5,171.02 L289.1,171.47 L289.7,171.99 L290.3,172.56 L290.9,173.17 L291.5,173.83 L292.1,174.53 L292.7,175.26 L293.3,176.01 L293.9,176.78 L294.5,177.56 L295.1,178.35 L295.7,179.14 L296.3,179.92 L296.9,180.69 L297.5,181.44 L298.1,182.17 L298.7,182.87 L299.3,183.54 L299.9,184.18 L300.5,184.78 L301.1,185.36 L301.7,185.91 L302.3,186.43 L302.9,186.93 L303.5,187.40 L304.1,187.85 L304.7,188.27 L305.3,188.67 L305.9,189.05 L306.5,189.41 L307.1,189.75 L307.7,190.06 L308.3,190.36 L308.9,190.64 L309.5,190.91 L310.1,191.16 L310.7,191.39 L311.3,191.61 L311.9,191.82 L312.5,192.01 L313.1,192.20 L313.7,192.37 L314.3,192.53 L314.9,192.68 L315.5,192.83 L316.1,192.97 L316.7,193.10 L317.3,193.23 L317.9,193.35 L318.5,193.46 L319.1,193.58 L319.7,193.69 L320.3,193.80 L320.9,193.92 L321.5,194.03 L322.1,194.13 L322.7,194.24 L323.3,194.35 L323.9,194.45 L324.5,194.56 L325.1,194.66 L325.7,194.76 L326.3,194.86 L326.9,194.96 L327.5,195.06 L328.1,195.15 L328.7,195.25 L329.3,195.34 L329.9,195.43 L330.5,195.52 L331.1,195.61 L331.7,195.70 L332.3,195.78 L332.9,195.86 L333.5,195.95 L334.1,196.03 L334.7,196.10 L335.3,196.18 L335.9,196.25 L336.5,196.32 L337.1,196.39 L337.7,196.46 L338.3,196.53 L338.9,196.59 L339.5,196.65 L340.1,196.71 L340.7,196.77 L341.3,196.82 L341.9,196.87 L342.5,196.92 L343.1,196.97 L343.7,197.02 L344.3,197.06 L344.9,197.10 L345.5,197.14 L346.1,197.17 L346.7,197.21 L347.3,197.24 L347.9,197.26 L348.5,197.29 L349.1,197.31 L349.7,197.33 L350.3,197.35 L350.9,197.36 L351.5,197.37 L352.1,197.38 L352.7,197.38 L353.3,197.38 L353.9,197.38 L354.5,197.38 L355.1,197.37 L355.7,197.36 L356.3,197.35 L356.9,197.33 L357.5,197.31 L358.1,197.29 L358.7,197.26 L359.3,197.23 L359.9,197.20 L360.5,197.16 L361.1,197.12 L361.7,197.07 L362.0,197.05" fill="none" stroke="#e6dc18" stroke-width="2.15" stroke-linejoin="round" stroke-linecap="round"/>
<path d="M20.3,132.74 L20.9,131.43 L21.5,130.25 L22.1,129.18 L22.7,128.20 L23.3,127.30 L23.9,126.46 L24.5,125.66 L25.1,124.89 L25.7,124.14 L26.3,123.40 L26.9,122.70 L27.5,122.09 L28.1,121.62 L28.7,121.34 L29.3,121.28 L29.9,121.43 L30.5,121.73 L31.1,122.14 L31.7,122.62 L32.3,123.13 L32.9,123.66 L33.5,124.19 L34.1,124.72 L34.7,125.22 L35.3,125.68 L35.9,126.08 L36.5,126.42 L37.1,126.67 L37.7,126.84 L38.3,126.93 L38.9,126.95 L39.5,126.91 L40.1,126.83 L40.7,126.71 L41.3,126.56 L41.9,126.39 L42.5,126.22 L43.1,126.03 L43.7,125.83 L44.3,125.60 L44.9,125.36 L45.5,125.10 L46.1,124.81 L46.7,124.50 L47.3,124.15 L47.9,123.77 L48.5,123.35 L49.1,122.86 L49.7,122.30 L50.3,121.65 L50.9,120.92 L51.5,120.17 L52.1,119.48 L52.7,118.93 L53.3,118.60 L53.9,118.48 L54.5,118.54 L55.1,118.76 L55.7,119.11 L56.3,119.55 L56.9,120.05 L57.5,120.59 L58.1,121.14 L58.7,121.67 L59.3,122.17 L59.9,122.65 L60.5,123.12 L61.1,123.57 L61.7,124.03 L62.3,124.48 L62.9,124.95 L63.5,125.43 L64.1,125.93 L64.7,126.45 L65.3,126.99 L65.9,127.53 L66.5,128.08 L67.1,128.64 L67.7,129.20 L68.3,129.77 L68.9,130.32 L69.5,130.88 L70.1,131.42 L70.7,131.96 L71.3,132.48 L71.9,132.99 L72.5,133.47 L73.1,133.93 L73.7,134.37 L74.3,134.78 L74.9,135.17 L75.5,135.54 L76.1,135.90 L76.7,136.28 L77.3,136.69 L77.9,137.15 L78.5,137.66 L79.1,138.24 L79.7,138.91 L80.3,139.67 L80.9,140.53 L81.5,141.47 L82.1,142.46 L82.7,143.51 L83.3,144.58 L83.9,145.68 L84.5,146.77 L85.1,147.86 L85.7,148.92 L86.3,149.96 L86.9,150.97 L87.5,151.95 L88.1,152.90 L88.7,153.82 L89.3,154.70 L89.9,155.55 L90.5,156.35 L91.1,157.11 L91.7,157.82 L92.3,158.48 L92.9,159.10 L93.5,159.66 L94.1,160.16 L94.7,160.61 L95.3,160.99 L95.9,161.32 L96.5,161.57 L97.1,161.77 L97.7,161.89 L98.3,161.95 L98.9,161.94 L99.5,161.86 L100.1,161.71 L100.7,161.48 L101.3,161.19 L101.9,160.82 L102.5,160.37 L103.1,159.85 L103.7,159.25 L104.3,158.57 L104.9,157.81 L105.5,156.97 L106.1,156.04 L106.7,155.08 L107.3,154.13 L107.9,153.27 L108.5,152.57 L109.1,152.10 L109.7,151.85 L110.3,151.76 L110.9,151.77 L111.5,151.81 L112.1,151.82 L112.7,151.74 L113.3,151.52 L113.9,151.11 L114.5,150.46 L115.1,149.54 L115.7,148.42 L116.3,147.15 L116.9,145.80 L117.5,144.40 L118.1,142.94 L118.7,141.43 L119.3,139.86 L119.9,138.20 L120.5,136.47 L121.1,134.64 L121.7,132.72 L122.3,130.69 L122.9,128.54 L123.5,126.32 L124.1,124.06 L124.7,121.80 L125.3,119.58 L125.9,117.43 L126.5,115.39 L127.1,113.50 L127.7,111.80 L128.3,110.31 L128.9,109.06 L129.5,108.06 L130.1,107.34 L130.7,106.90 L131.3,106.73 L131.9,106.78 L132.5,107.00 L133.1,107.33 L133.7,107.76 L134.3,108.27 L134.9,108.85 L135.5,109.49 L136.1,110.19 L136.7,110.94 L137.3,111.73 L137.9,112.55 L138.5,113.40 L139.1,114.29 L139.7,115.25 L140.3,116.32 L140.9,117.55 L141.5,118.98 L142.1,120.59 L142.7,122.33 L143.3,124.10 L143.9,125.82 L144.5,127.44 L145.1,128.98 L145.7,130.49 L146.3,132.00 L146.9,133.53 L147.5,135.14 L148.1,136.85 L148.7,138.70 L149.3,140.72 L149.9,142.86 L150.5,145.05 L151.1,147.23 L151.7,149.32 L152.3,151.25 L152.9,153.02 L153.5,154.59 L154.1,155.98 L154.7,157.17 L155.3,158.17 L155.9,159.00 L156.5,159.69 L157.1,160.26 L157.7,160.73 L158.3,161.12 L158.9,161.45 L159.5,161.74 L160.1,162.03 L160.7,162.30 L161.3,162.57 L161.9,162.81 L162.5,163.04 L163.1,163.23 L163.7,163.39 L164.3,163.50 L164.9,163.56 L165.5,163.57 L166.1,163.52 L166.7,163.43 L167.3,163.31 L167.9,163.17 L168.5,163.02 L169.1,162.88 L169.7,162.75 L170.3,162.66 L170.9,162.61 L171.5,162.59 L172.1,162.59 L172.7,162.61 L173.3,162.63 L173.9,162.64 L174.5,162.63 L175.1,162.60 L175.7,162.53 L176.3,162.41 L176.9,162.26 L177.5,162.08 L178.1,161.90 L178.7,161.72 L179.3,161.56 L179.9,161.43 L180.5,161.34 L181.1,161.32 L181.7,161.36 L182.3,161.47 L182.9,161.63 L183.5,161.84 L184.1,162.10 L184.7,162.40 L185.3,162.75 L185.9,163.13 L186.5,163.54 L187.1,163.98 L187.7,164.45 L188.3,164.94 L188.9,165.45 L189.5,166.00 L190.1,166.56 L190.7,167.14 L191.3,167.75 L191.9,168.37 L192.5,169.01 L193.1,169.66 L193.7,170.34 L194.3,171.02 L194.9,171.72 L195.5,172.43 L196.1,173.15 L196.7,173.88 L197.3,174.61 L197.9,175.36 L198.5,176.10 L199.1,176.86 L199.7,177.61 L200.3,178.36 L200.9,179.12 L201.5,179.87 L202.1,180.62 L202.7,181.37 L203.3,182.11 L203.9,182.85 L204.5,183.58 L205.1,184.30 L205.7,185.01 L206.3,185.71 L206.9,186.39 L207.5,187.07 L208.1,187.72 L208.7,188.36 L209.3,188.99 L209.9,189.59 L210.5,190.18 L211.1,190.74 L211.7,191.28 L212.3,191.80 L212.9,192.29 L213.5,192.75 L214.1,193.19 L214.7,193.61 L215.3,194.00 L215.9,194.36 L216.5,194.70 L217.1,195.02 L217.7,195.32 L218.3,195.60 L218.9,195.85 L219.5,196.08 L220.1,196.30 L220.7,196.49 L221.3,196.67 L221.9,196.82 L222.5,196.96 L223.1,197.08 L223.7,197.18 L224.3,197.27 L224.9,197.34 L225.5,197.40 L226.1,197.44 L226.7,197.47 L227.3,197.48 L227.9,197.48 L228.5,197.47 L229.1,197.44 L229.7,197.41 L230.3,197.36 L230.9,197.30 L231.5,197.23 L232.1,197.15 L232.7,197.07 L233.3,196.97 L233.9,196.87 L234.5,196.76 L235.1,196.64 L235.7,196.51 L236.3,196.35 L236.9,196.16 L237.5,195.94 L238.1,195.68 L238.7,195.37 L239.3,195.00 L239.9,194.58 L240.5,194.09 L241.1,193.54 L241.7,192.96 L242.3,192.34 L242.9,191.70 L243.5,191.06 L244.1,190.42 L244.7,189.79 L245.3,189.19 L245.9,188.63 L246.5,188.10 L247.1,187.62 L247.7,187.18 L248.3,186.78 L248.9,186.43 L249.5,186.13 L250.1,185.88 L250.7,185.68 L251.3,185.53 L251.9,185.44 L252.5,185.40 L253.1,185.42 L253.7,185.50 L254.3,185.64 L254.9,185.85 L255.5,186.12 L256.1,186.45 L256.7,186.85 L257.3,187.31 L257.9,187.81 L258.5,188.36 L259.1,188.93 L259.7,189.54 L260.3,190.16 L260.9,190.78 L261.5,191.41 L262.1,192.04 L262.7,192.65 L263.3,193.24 L263.9,193.80 L264.5,194.32 L265.1,194.80 L265.7,195.23 L266.3,195.60 L266.9,195.90 L267.5,196.14 L268.1,196.32 L268.7,196.44 L269.3,196.50 L269.9,196.51 L270.5,196.48 L271.1,196.40 L271.7,196.29 L272.3,196.13 L272.9,195.94 L273.5,195.72 L274.1,195.47 L274.7,195.20 L275.3,194.91 L275.9,194.60 L276.5,194.27 L277.1,193.94 L277.7,193.59 L278.3,193.25 L278.9,192.92 L279.5,192.59 L280.1,192.29 L280.7,192.01 L281.3,191.75 L281.9,191.54 L282.5,191.37 L283.1,191.24 L283.7,191.16 L284.3,191.14 L284.9,191.17 L285.5,191.26 L286.1,191.41 L286.7,191.62 L287.3,191.89 L287.9,192.24 L288.5,192.65 L289.1,193.12 L289.7,193.65 L290.3,194.23 L290.9,194.86 L291.5,195.53 L292.1,196.24 L292.7,196.97 L293.3,197.73 L293.9,198.50 L294.5,199.29 L295.1,200.08 L295.7,200.88 L296.3,201.67 L296.9,202.45 L297.5,203.21 L298.1,203.95 L298.7,204.66 L299.3,205.35 L299.9,206.00 L300.5,206.63 L301.1,207.23 L301.7,207.81 L302.3,208.36 L302.9,208.89 L303.5,209.39 L304.1,209.87 L304.7,210.33 L305.3,210.76 L305.9,211.18 L306.5,211.57 L307.1,211.95 L307.7,212.31 L308.3,212.65 L308.9,212.97 L309.5,213.27 L310.1,213.56 L310.7,213.84 L311.3,214.10 L311.9,214.35 L312.5,214.58 L313.1,214.80 L313.7,215.02 L314.3,215.22 L314.9,215.41 L315.5,215.59 L316.1,215.77 L316.7,215.93 L317.3,216.09 L317.9,216.25 L318.5,216.40 L319.1,216.54 L319.7,216.68 L320.3,216.82 L320.9,216.95 L321.5,217.08 L322.1,217.21 L322.7,217.34 L323.3,217.46 L323.9,217.58 L324.5,217.70 L325.1,217.81 L325.7,217.92 L326.3,218.03 L326.9,218.14 L327.5,218.24 L328.1,218.35 L328.7,218.44 L329.3,218.54 L329.9,218.64 L330.5,218.73 L331.1,218.82 L331.7,218.91 L332.3,218.99 L332.9,219.07 L333.5,219.16 L334.1,219.23 L334.7,219.31 L335.3,219.39 L335.9,219.46 L336.5,219.53 L337.1,219.60 L337.7,219.67 L338.3,219.73 L338.9,219.79 L339.5,219.86 L340.1,219.92 L340.7,219.97 L341.3,220.03 L341.9,220.09 L342.5,220.14 L343.1,220.19 L343.7,220.24 L344.3,220.29 L344.9,220.34 L345.5,220.38 L346.1,220.43 L346.7,220.47 L347.3,220.51 L347.9,220.55 L348.5,220.59 L349.1,220.63 L349.7,220.67 L350.3,220.70 L350.9,220.74 L351.5,220.77 L352.1,220.80 L352.7,220.83 L353.3,220.87 L353.9,220.89 L354.5,220.92 L355.1,220.95 L355.7,220.98 L356.3,221.01 L356.9,221.03 L357.5,221.06 L358.1,221.08 L358.7,221.11 L359.3,221.13 L359.9,221.15 L360.5,221.17 L361.1,221.20 L361.7,221.22 L362.0,221.23" fill="none" stroke="#e8a30e" stroke-width="2.15" stroke-linejoin="round" stroke-linecap="round"/>
<path d="M20.3,156.36 L20.9,154.94 L21.5,153.69 L22.1,152.58 L22.7,151.58 L23.3,150.69 L23.9,149.87 L24.5,149.11 L25.1,148.38 L25.7,147.65 L26.3,146.93 L26.9,146.24 L27.5,145.63 L28.1,145.16 L28.7,144.89 L29.3,144.85 L29.9,145.04 L30.5,145.39 L31.1,145.87 L31.7,146.42 L32.3,147.01 L32.9,147.63 L33.5,148.26 L34.1,148.88 L34.7,149.47 L35.3,150.02 L35.9,150.52 L36.5,150.94 L37.1,151.26 L37.7,151.49 L38.3,151.63 L38.9,151.70 L39.5,151.70 L40.1,151.64 L40.7,151.54 L41.3,151.39 L41.9,151.22 L42.5,151.03 L43.1,150.82 L43.7,150.59 L44.3,150.35 L44.9,150.09 L45.5,149.82 L46.1,149.55 L46.7,149.26 L47.3,148.97 L47.9,148.66 L48.5,148.34 L49.1,147.98 L49.7,147.57 L50.3,147.09 L50.9,146.54 L51.5,145.97 L52.1,145.44 L52.7,145.00 L53.3,144.71 L53.9,144.57 L54.5,144.56 L55.1,144.68 L55.7,144.91 L56.3,145.23 L56.9,145.62 L57.5,146.08 L58.1,146.58 L58.7,147.11 L59.3,147.67 L59.9,148.25 L60.5,148.83 L61.1,149.42 L61.7,150.00 L62.3,150.58 L62.9,151.14 L63.5,151.68 L64.1,152.20 L64.7,152.69 L65.3,153.17 L65.9,153.62 L66.5,154.06 L67.1,154.48 L67.7,154.89 L68.3,155.29 L68.9,155.67 L69.5,156.05 L70.1,156.43 L70.7,156.80 L71.3,157.16 L71.9,157.53 L72.5,157.90 L73.1,158.27 L73.7,158.64 L74.3,159.02 L74.9,159.41 L75.5,159.81 L76.1,160.22 L76.7,160.65 L77.3,161.09 L77.9,161.54 L78.5,162.01 L79.1,162.50 L79.7,163.01 L80.3,163.54 L80.9,164.09 L81.5,164.67 L82.1,165.27 L82.7,165.90 L83.3,166.55 L83.9,167.24 L84.5,167.95 L85.1,168.70 L85.7,169.48 L86.3,170.28 L86.9,171.11 L87.5,171.95 L88.1,172.80 L88.7,173.67 L89.3,174.53 L89.9,175.39 L90.5,176.24 L91.1,177.08 L91.7,177.91 L92.3,178.71 L92.9,179.49 L93.5,180.23 L94.1,180.94 L94.7,181.62 L95.3,182.24 L95.9,182.82 L96.5,183.34 L97.1,183.80 L97.7,184.20 L98.3,184.53 L98.9,184.79 L99.5,184.96 L100.1,185.06 L100.7,185.07 L101.3,184.99 L101.9,184.81 L102.5,184.52 L103.1,184.13 L103.7,183.64 L104.3,183.02 L104.9,182.28 L105.5,181.42 L106.1,180.43 L106.7,179.30 L107.3,178.00 L107.9,176.52 L108.5,174.82 L109.1,172.92 L109.7,171.04 L110.3,169.68 L110.9,169.26 L111.5,169.89 L112.1,171.30 L112.7,172.82 L113.3,173.82 L113.9,174.17 L114.5,173.94 L115.1,173.26 L115.7,172.30 L116.3,171.21 L116.9,169.98 L117.5,168.55 L118.1,166.93 L118.7,165.15 L119.3,163.23 L119.9,161.20 L120.5,159.08 L121.1,156.89 L121.7,154.65 L122.3,152.40 L122.9,150.14 L123.5,147.91 L124.1,145.74 L124.7,143.63 L125.3,141.63 L125.9,139.74 L126.5,137.99 L127.1,136.42 L127.7,135.03 L128.3,133.84 L128.9,132.84 L129.5,132.02 L130.1,131.39 L130.7,130.93 L131.3,130.64 L131.9,130.51 L132.5,130.55 L133.1,130.73 L133.7,131.07 L134.3,131.54 L134.9,132.13 L135.5,132.83 L136.1,133.63 L136.7,134.51 L137.3,135.46 L137.9,136.47 L138.5,137.53 L139.1,138.63 L139.7,139.77 L140.3,140.95 L140.9,142.18 L141.5,143.46 L142.1,144.78 L142.7,146.16 L143.3,147.58 L143.9,149.07 L144.5,150.61 L145.1,152.20 L145.7,153.86 L146.3,155.58 L146.9,157.37 L147.5,159.22 L148.1,161.14 L148.7,163.13 L149.3,165.19 L149.9,167.29 L150.5,169.39 L151.1,171.47 L151.7,173.47 L152.3,175.37 L152.9,177.12 L153.5,178.69 L154.1,180.05 L154.7,181.15 L155.3,182.01 L155.9,182.65 L156.5,183.10 L157.1,183.40 L157.7,183.57 L158.3,183.65 L158.9,183.67 L159.5,183.65 L160.1,183.63 L160.7,183.62 L161.3,183.62 L161.9,183.64 L162.5,183.66 L163.1,183.69 L163.7,183.73 L164.3,183.77 L164.9,183.82 L165.5,183.87 L166.1,183.92 L166.7,183.98 L167.3,184.04 L167.9,184.10 L168.5,184.15 L169.1,184.20 L169.7,184.25 L170.3,184.30 L170.9,184.34 L171.5,184.38 L172.1,184.41 L172.7,184.44 L173.3,184.48 L173.9,184.52 L174.5,184.57 L175.1,184.63 L175.7,184.69 L176.3,184.77 L176.9,184.85 L177.5,184.92 L178.1,184.97 L178.7,184.99 L179.3,184.91 L179.9,184.68 L180.5,184.19 L181.1,183.40 L181.7,182.47 L182.3,181.83 L182.9,181.78 L183.5,182.12 L184.1,182.56 L184.7,182.94 L185.3,183.31 L185.9,183.70 L186.5,184.15 L187.1,184.67 L187.7,185.27 L188.3,185.93 L188.9,186.65 L189.5,187.40 L190.1,188.19 L190.7,189.00 L191.3,189.81 L191.9,190.64 L192.5,191.46 L193.1,192.28 L193.7,193.10 L194.3,193.92 L194.9,194.74 L195.5,195.56 L196.1,196.37 L196.7,197.18 L197.3,197.99 L197.9,198.79 L198.5,199.58 L199.1,200.37 L199.7,201.15 L200.3,201.93 L200.9,202.69 L201.5,203.45 L202.1,204.20 L202.7,204.94 L203.3,205.66 L203.9,206.38 L204.5,207.09 L205.1,207.78 L205.7,208.46 L206.3,209.13 L206.9,209.78 L207.5,210.42 L208.1,211.04 L208.7,211.65 L209.3,212.24 L209.9,212.81 L210.5,213.36 L211.1,213.90 L211.7,214.42 L212.3,214.91 L212.9,215.39 L213.5,215.85 L214.1,216.28 L214.7,216.70 L215.3,217.09 L215.9,217.47 L216.5,217.82 L217.1,218.15 L217.7,218.47 L218.3,218.76 L218.9,219.03 L219.5,219.28 L220.1,219.51 L220.7,219.72 L221.3,219.91 L221.9,220.08 L222.5,220.22 L223.1,220.35 L223.7,220.46 L224.3,220.55 L224.9,220.61 L225.5,220.66 L226.1,220.69 L226.7,220.69 L227.3,220.68 L227.9,220.65 L228.5,220.59 L229.1,220.52 L229.7,220.42 L230.3,220.31 L230.9,220.18 L231.5,220.02 L232.1,219.85 L232.7,219.65 L233.3,219.44 L233.9,219.20 L234.5,218.95 L235.1,218.68 L235.7,218.38 L236.3,218.07 L236.9,217.74 L237.5,217.39 L238.1,217.03 L238.7,216.64 L239.3,216.25 L239.9,215.83 L240.5,215.40 L241.1,214.95 L241.7,214.49 L242.3,214.01 L242.9,213.52 L243.5,213.02 L244.1,212.50 L244.7,211.97 L245.3,211.43 L245.9,210.87 L246.5,210.32 L247.1,209.78 L247.7,209.26 L248.3,208.78 L248.9,208.34 L249.5,207.96 L250.1,207.64 L250.7,207.41 L251.3,207.27 L251.9,207.22 L252.5,207.24 L253.1,207.34 L253.7,207.50 L254.3,207.70 L254.9,207.96 L255.5,208.25 L256.1,208.56 L256.7,208.90 L257.3,209.27 L257.9,209.66 L258.5,210.08 L259.1,210.52 L259.7,211.00 L260.3,211.51 L260.9,212.05 L261.5,212.62 L262.1,213.23 L262.7,213.85 L263.3,214.47 L263.9,215.09 L264.5,215.68 L265.1,216.24 L265.7,216.75 L266.3,217.20 L266.9,217.58 L267.5,217.89 L268.1,218.13 L268.7,218.31 L269.3,218.44 L269.9,218.51 L270.5,218.53 L271.1,218.51 L271.7,218.44 L272.3,218.34 L272.9,218.21 L273.5,218.05 L274.1,217.87 L274.7,217.67 L275.3,217.45 L275.9,217.22 L276.5,216.98 L277.1,216.74 L277.7,216.50 L278.3,216.26 L278.9,216.04 L279.5,215.83 L280.1,215.64 L280.7,215.47 L281.3,215.34 L281.9,215.23 L282.5,215.17 L283.1,215.14 L283.7,215.16 L284.3,215.23 L284.9,215.35 L285.5,215.53 L286.1,215.76 L286.7,216.06 L287.3,216.42 L287.9,216.85 L288.5,217.35 L289.1,217.91 L289.7,218.53 L290.3,219.20 L290.9,219.92 L291.5,220.68 L292.1,221.47 L292.7,222.28 L293.3,223.12 L293.9,223.97 L294.5,224.83 L295.1,225.70 L295.7,226.56 L296.3,227.41 L296.9,228.24 L297.5,229.05 L298.1,229.84 L298.7,230.58 L299.3,231.30 L299.9,231.98 L300.5,232.62 L301.1,233.23 L301.7,233.81 L302.3,234.36 L302.9,234.88 L303.5,235.37 L304.1,235.83 L304.7,236.26 L305.3,236.67 L305.9,237.05 L306.5,237.41 L307.1,237.75 L307.7,238.06 L308.3,238.36 L308.9,238.63 L309.5,238.88 L310.1,239.12 L310.7,239.33 L311.3,239.53 L311.9,239.72 L312.5,239.89 L313.1,240.05 L313.7,240.20 L314.3,240.33 L314.9,240.46 L315.5,240.57 L316.1,240.68 L316.7,240.78 L317.3,240.87 L317.9,240.96 L318.5,241.04 L319.1,241.12 L319.7,241.20 L320.3,241.27 L320.9,241.35 L321.5,241.42 L322.1,241.49 L322.7,241.56 L323.3,241.63 L323.9,241.70 L324.5,241.76 L325.1,241.83 L325.7,241.89 L326.3,241.95 L326.9,242.02 L327.5,242.08 L328.1,242.14 L328.7,242.19 L329.3,242.25 L329.9,242.31 L330.5,242.36 L331.1,242.41 L331.7,242.47 L332.3,242.52 L332.9,242.57 L333.5,242.62 L334.1,242.67 L334.7,242.71 L335.3,242.76 L335.9,242.81 L336.5,242.85 L337.1,242.90 L337.7,242.94 L338.3,242.98 L338.9,243.02 L339.5,243.06 L340.1,243.10 L340.7,243.14 L341.3,243.18 L341.9,243.22 L342.5,243.26 L343.1,243.29 L343.7,243.33 L344.3,243.36 L344.9,243.40 L345.5,243.43 L346.1,243.46 L346.7,243.50 L347.3,243.53 L347.9,243.56 L348.5,243.59 L349.1,243.62 L349.7,243.65 L350.3,243.68 L350.9,243.71 L351.5,243.74 L352.1,243.76 L352.7,243.79 L353.3,243.82 L353.9,243.85 L354.5,243.87 L355.1,243.90 L355.7,243.92 L356.3,243.95 L356.9,243.97 L357.5,244.00 L358.1,244.02 L358.7,244.05 L359.3,244.07 L359.9,244.09 L360.5,244.12 L361.1,244.14 L361.7,244.16 L362.0,244.18" fill="none" stroke="#f07c22" stroke-width="2.15" stroke-linejoin="round" stroke-linecap="round"/>
<path d="M20.3,179.96 L20.9,178.68 L21.5,177.41 L22.1,176.18 L22.7,175.05 L23.3,174.08 L23.9,173.29 L24.5,172.66 L25.1,172.13 L25.7,171.64 L26.3,171.15 L26.9,170.70 L27.5,170.36 L28.1,170.21 L28.7,170.31 L29.3,170.73 L29.9,171.39 L30.5,172.19 L31.1,173.02 L31.7,173.78 L32.3,174.42 L32.9,174.95 L33.5,175.39 L34.1,175.73 L34.7,175.99 L35.3,176.17 L35.9,176.28 L36.5,176.32 L37.1,176.30 L37.7,176.24 L38.3,176.14 L38.9,176.01 L39.5,175.86 L40.1,175.70 L40.7,175.54 L41.3,175.39 L41.9,175.26 L42.5,175.15 L43.1,175.07 L43.7,175.00 L44.3,174.93 L44.9,174.86 L45.5,174.78 L46.1,174.68 L46.7,174.55 L47.3,174.39 L47.9,174.18 L48.5,173.90 L49.1,173.53 L49.7,173.03 L50.3,172.39 L50.9,171.61 L51.5,170.93 L52.1,170.58 L52.7,170.58 L53.3,170.75 L53.9,171.00 L54.5,171.33 L55.1,171.73 L55.7,172.18 L56.3,172.68 L56.9,173.21 L57.5,173.76 L58.1,174.32 L58.7,174.89 L59.3,175.45 L59.9,176.00 L60.5,176.54 L61.1,177.06 L61.7,177.55 L62.3,178.03 L62.9,178.47 L63.5,178.89 L64.1,179.27 L64.7,179.61 L65.3,179.93 L65.9,180.23 L66.5,180.50 L67.1,180.76 L67.7,181.00 L68.3,181.23 L68.9,181.45 L69.5,181.66 L70.1,181.87 L70.7,182.08 L71.3,182.30 L71.9,182.52 L72.5,182.75 L73.1,182.99 L73.7,183.25 L74.3,183.53 L74.9,183.83 L75.5,184.15 L76.1,184.49 L76.7,184.87 L77.3,185.26 L77.9,185.69 L78.5,186.14 L79.1,186.63 L79.7,187.15 L80.3,187.69 L80.9,188.28 L81.5,188.89 L82.1,189.54 L82.7,190.23 L83.3,190.96 L83.9,191.73 L84.5,192.53 L85.1,193.38 L85.7,194.26 L86.3,195.16 L86.9,196.06 L87.5,196.94 L88.1,197.79 L88.7,198.59 L89.3,199.32 L89.9,199.97 L90.5,200.51 L91.1,200.96 L91.7,201.31 L92.3,201.60 L92.9,201.84 L93.5,202.05 L94.1,202.25 L94.7,202.46 L95.3,202.70 L95.9,202.98 L96.5,203.29 L97.1,203.62 L97.7,203.96 L98.3,204.29 L98.9,204.59 L99.5,204.86 L100.1,205.08 L100.7,205.23 L101.3,205.31 L101.9,205.30 L102.5,205.18 L103.1,204.94 L103.7,204.57 L104.3,204.05 L104.9,203.37 L105.5,202.51 L106.1,201.47 L106.7,200.23 L107.3,198.81 L107.9,197.23 L108.5,195.47 L109.1,193.56 L109.7,191.36 L110.3,188.89 L110.9,187.78 L111.5,188.65 L112.1,190.96 L112.7,193.03 L113.3,193.38 L113.9,192.33 L114.5,190.93 L115.1,189.76 L115.7,188.59 L116.3,187.22 L116.9,185.68 L117.5,184.12 L118.1,182.55 L118.7,180.95 L119.3,179.33 L119.9,177.68 L120.5,175.99 L121.1,174.25 L121.7,172.47 L122.3,170.63 L122.9,168.74 L123.5,166.84 L124.1,164.95 L124.7,163.12 L125.3,161.40 L125.9,159.82 L126.5,158.42 L127.1,157.25 L127.7,156.33 L128.3,155.68 L128.9,155.28 L129.5,155.09 L130.1,155.11 L130.7,155.32 L131.3,155.69 L131.9,156.20 L132.5,156.83 L133.1,157.57 L133.7,158.40 L134.3,159.31 L134.9,160.30 L135.5,161.36 L136.1,162.49 L136.7,163.67 L137.3,164.91 L137.9,166.19 L138.5,167.50 L139.1,168.86 L139.7,170.25 L140.3,171.68 L140.9,173.16 L141.5,174.69 L142.1,176.27 L142.7,177.91 L143.3,179.61 L143.9,181.37 L144.5,183.18 L145.1,185.04 L145.7,186.90 L146.3,188.74 L146.9,190.54 L147.5,192.27 L148.1,193.90 L148.7,195.40 L149.3,196.76 L149.9,197.97 L150.5,199.04 L151.1,199.98 L151.7,200.80 L152.3,201.52 L152.9,202.13 L153.5,202.65 L154.1,203.09 L154.7,203.46 L155.3,203.77 L155.9,204.03 L156.5,204.24 L157.1,204.42 L157.7,204.58 L158.3,204.72 L158.9,204.86 L159.5,205.00 L160.1,205.15 L160.7,205.31 L161.3,205.46 L161.9,205.57 L162.5,205.61 L163.1,205.57 L163.7,205.46 L164.3,205.35 L164.9,205.29 L165.5,205.35 L166.1,205.56 L166.7,205.89 L167.3,206.30 L167.9,206.78 L168.5,207.29 L169.1,207.79 L169.7,208.26 L170.3,208.67 L170.9,208.99 L171.5,209.22 L172.1,209.36 L172.7,209.42 L173.3,209.39 L173.9,209.29 L174.5,209.11 L175.1,208.85 L175.7,208.53 L176.3,208.14 L176.9,207.69 L177.5,207.21 L178.1,206.73 L178.7,206.25 L179.3,205.80 L179.9,205.39 L180.5,205.06 L181.1,204.81 L181.7,204.66 L182.3,204.61 L182.9,204.65 L183.5,204.79 L184.1,205.01 L184.7,205.33 L185.3,205.74 L185.9,206.23 L186.5,206.81 L187.1,207.47 L187.7,208.20 L188.3,208.99 L188.9,209.83 L189.5,210.70 L190.1,211.60 L190.7,212.52 L191.3,213.44 L191.9,214.36 L192.5,215.27 L193.1,216.17 L193.7,217.07 L194.3,217.95 L194.9,218.83 L195.5,219.70 L196.1,220.56 L196.7,221.41 L197.3,222.25 L197.9,223.07 L198.5,223.89 L199.1,224.69 L199.7,225.48 L200.3,226.26 L200.9,227.02 L201.5,227.77 L202.1,228.51 L202.7,229.23 L203.3,229.94 L203.9,230.62 L204.5,231.30 L205.1,231.96 L205.7,232.59 L206.3,233.22 L206.9,233.82 L207.5,234.41 L208.1,234.97 L208.7,235.52 L209.3,236.04 L209.9,236.55 L210.5,237.04 L211.1,237.50 L211.7,237.94 L212.3,238.36 L212.9,238.76 L213.5,239.13 L214.1,239.48 L214.7,239.82 L215.3,240.13 L215.9,240.42 L216.5,240.69 L217.1,240.95 L217.7,241.19 L218.3,241.42 L218.9,241.63 L219.5,241.83 L220.1,242.01 L220.7,242.19 L221.3,242.35 L221.9,242.51 L222.5,242.66 L223.1,242.80 L223.7,242.93 L224.3,243.06 L224.9,243.18 L225.5,243.29 L226.1,243.39 L226.7,243.48 L227.3,243.55 L227.9,243.60 L228.5,243.63 L229.1,243.64 L229.7,243.62 L230.3,243.58 L230.9,243.50 L231.5,243.39 L232.1,243.25 L232.7,243.06 L233.3,242.84 L233.9,242.58 L234.5,242.27 L235.1,241.92 L235.7,241.53 L236.3,241.10 L236.9,240.64 L237.5,240.15 L238.1,239.64 L238.7,239.10 L239.3,238.55 L239.9,237.99 L240.5,237.42 L241.1,236.84 L241.7,236.27 L242.3,235.70 L242.9,235.14 L243.5,234.58 L244.1,234.05 L244.7,233.54 L245.3,233.05 L245.9,232.58 L246.5,232.16 L247.1,231.78 L247.7,231.45 L248.3,231.18 L248.9,230.99 L249.5,230.87 L250.1,230.84 L250.7,230.90 L251.3,231.06 L251.9,231.31 L252.5,231.65 L253.1,232.04 L253.7,232.49 L254.3,232.97 L254.9,233.47 L255.5,233.98 L256.1,234.48 L256.7,234.97 L257.3,235.45 L257.9,235.93 L258.5,236.41 L259.1,236.90 L259.7,237.40 L260.3,237.91 L260.9,238.44 L261.5,238.99 L262.1,239.57 L262.7,240.15 L263.3,240.72 L263.9,241.28 L264.5,241.79 L265.1,242.25 L265.7,242.65 L266.3,242.97 L266.9,243.19 L267.5,243.33 L268.1,243.39 L268.7,243.37 L269.3,243.28 L269.9,243.14 L270.5,242.95 L271.1,242.71 L271.7,242.43 L272.3,242.13 L272.9,241.80 L273.5,241.45 L274.1,241.10 L274.7,240.75 L275.3,240.40 L275.9,240.06 L276.5,239.75 L277.1,239.46 L277.7,239.21 L278.3,239.00 L278.9,238.84 L279.5,238.73 L280.1,238.69 L280.7,238.71 L281.3,238.80 L281.9,238.98 L282.5,239.24 L283.1,239.60 L283.7,240.03 L284.3,240.54 L284.9,241.12 L285.5,241.76 L286.1,242.46 L286.7,243.20 L287.3,243.98 L287.9,244.79 L288.5,245.63 L289.1,246.48 L289.7,247.35 L290.3,248.23 L290.9,249.10 L291.5,249.96 L292.1,250.81 L292.7,251.63 L293.3,252.43 L293.9,253.19 L294.5,253.91 L295.1,254.60 L295.7,255.26 L296.3,255.89 L296.9,256.48 L297.5,257.05 L298.1,257.59 L298.7,258.10 L299.3,258.58 L299.9,259.04 L300.5,259.48 L301.1,259.89 L301.7,260.27 L302.3,260.64 L302.9,260.98 L303.5,261.30 L304.1,261.60 L304.7,261.89 L305.3,262.15 L305.9,262.40 L306.5,262.63 L307.1,262.84 L307.7,263.04 L308.3,263.22 L308.9,263.39 L309.5,263.55 L310.1,263.69 L310.7,263.82 L311.3,263.94 L311.9,264.05 L312.5,264.16 L313.1,264.25 L313.7,264.34 L314.3,264.42 L314.9,264.49 L315.5,264.56 L316.1,264.62 L316.7,264.68 L317.3,264.74 L317.9,264.79 L318.5,264.85 L319.1,264.90 L319.7,264.95 L320.3,265.00 L320.9,265.06 L321.5,265.11 L322.1,265.17 L322.7,265.23 L323.3,265.29 L323.9,265.34 L324.5,265.40 L325.1,265.46 L325.7,265.52 L326.3,265.58 L326.9,265.65 L327.5,265.71 L328.1,265.77 L328.7,265.83 L329.3,265.89 L329.9,265.96 L330.5,266.02 L331.1,266.08 L331.7,266.14 L332.3,266.21 L332.9,266.27 L333.5,266.33 L334.1,266.39 L334.7,266.45 L335.3,266.51 L335.9,266.57 L336.5,266.63 L337.1,266.69 L337.7,266.75 L338.3,266.81 L338.9,266.87 L339.5,266.92 L340.1,266.98 L340.7,267.03 L341.3,267.09 L341.9,267.14 L342.5,267.19 L343.1,267.24 L343.7,267.29 L344.3,267.34 L344.9,267.38 L345.5,267.43 L346.1,267.47 L346.7,267.52 L347.3,267.56 L347.9,267.59 L348.5,267.63 L349.1,267.67 L349.7,267.70 L350.3,267.73 L350.9,267.76 L351.5,267.79 L352.1,267.82 L352.7,267.84 L353.3,267.86 L353.9,267.88 L354.5,267.90 L355.1,267.91 L355.7,267.92 L356.3,267.93 L356.9,267.94 L357.5,267.95 L358.1,267.95 L358.7,267.95 L359.3,267.94 L359.9,267.94 L360.5,267.93 L361.1,267.92 L361.7,267.90 L362.0,267.89" fill="none" stroke="#f82a2a" stroke-width="2.15" stroke-linejoin="round" stroke-linecap="round"/>
<path d="M20.3,207.17 L20.9,205.84 L21.5,204.91 L22.1,204.26 L22.7,203.74 L23.3,203.24 L23.9,202.64 L24.5,202.00 L25.1,201.39 L25.7,200.89 L26.3,200.57 L26.9,200.44 L27.5,200.50 L28.1,200.72 L28.7,201.11 L29.3,201.64 L29.9,202.27 L30.5,202.93 L31.1,203.57 L31.7,204.12 L32.3,204.56 L32.9,204.91 L33.5,205.17 L34.1,205.35 L34.7,205.45 L35.3,205.50 L35.9,205.48 L36.5,205.41 L37.1,205.31 L37.7,205.17 L38.3,205.01 L38.9,204.83 L39.5,204.64 L40.1,204.44 L40.7,204.26 L41.3,204.09 L41.9,203.94 L42.5,203.82 L43.1,203.71 L43.7,203.60 L44.3,203.46 L44.9,203.30 L45.5,203.09 L46.1,202.81 L46.7,202.46 L47.3,202.02 L47.9,201.46 L48.5,200.78 L49.1,199.95 L49.7,198.94 L50.3,197.73 L50.9,196.45 L51.5,195.73 L52.1,196.32 L52.7,198.19 L53.3,200.44 L53.9,201.84 L54.5,202.01 L55.1,202.10 L55.7,202.21 L56.3,202.28 L56.9,202.33 L57.5,202.37 L58.1,202.42 L58.7,202.47 L59.3,202.55 L59.9,202.64 L60.5,202.75 L61.1,202.87 L61.7,202.99 L62.3,203.13 L62.9,203.27 L63.5,203.41 L64.1,203.55 L64.7,203.69 L65.3,203.83 L65.9,203.98 L66.5,204.14 L67.1,204.29 L67.7,204.46 L68.3,204.63 L68.9,204.81 L69.5,205.01 L70.1,205.21 L70.7,205.42 L71.3,205.65 L71.9,205.89 L72.5,206.14 L73.1,206.42 L73.7,206.70 L74.3,207.01 L74.9,207.34 L75.5,207.68 L76.1,208.04 L76.7,208.42 L77.3,208.81 L77.9,209.22 L78.5,209.65 L79.1,210.08 L79.7,210.53 L80.3,211.00 L80.9,211.47 L81.5,211.96 L82.1,212.46 L82.7,212.96 L83.3,213.48 L83.9,214.00 L84.5,214.53 L85.1,215.07 L85.7,215.61 L86.3,216.16 L86.9,216.71 L87.5,217.26 L88.1,217.81 L88.7,218.35 L89.3,218.90 L89.9,219.43 L90.5,219.97 L91.1,220.49 L91.7,221.00 L92.3,221.50 L92.9,221.99 L93.5,222.47 L94.1,222.93 L94.7,223.37 L95.3,223.79 L95.9,224.19 L96.5,224.58 L97.1,224.95 L97.7,225.31 L98.3,225.67 L98.9,226.03 L99.5,226.39 L100.1,226.75 L100.7,227.13 L101.3,227.50 L101.9,227.76 L102.5,227.74 L103.1,227.30 L103.7,226.28 L104.3,224.75 L104.9,222.90 L105.5,220.91 L106.1,218.98 L106.7,217.19 L107.3,215.52 L107.9,213.94 L108.5,212.45 L109.1,211.03 L109.7,209.87 L110.3,209.41 L110.9,210.06 L111.5,212.25 L112.1,215.19 L112.7,216.53 L113.3,216.37 L113.9,215.55 L114.5,214.49 L115.1,213.40 L115.7,212.20 L116.3,210.75 L116.9,208.94 L117.5,206.71 L118.1,204.19 L118.7,201.51 L119.3,198.83 L119.9,196.28 L120.5,193.98 L121.1,191.89 L121.7,189.99 L122.3,188.24 L122.9,186.61 L123.5,185.11 L124.1,183.73 L124.7,182.49 L125.3,181.38 L125.9,180.40 L126.5,179.57 L127.1,178.89 L127.7,178.36 L128.3,177.99 L128.9,177.77 L129.5,177.70 L130.1,177.80 L130.7,178.05 L131.3,178.46 L131.9,179.03 L132.5,179.76 L133.1,180.66 L133.7,181.71 L134.3,182.92 L134.9,184.29 L135.5,185.80 L136.1,187.46 L136.7,189.27 L137.3,191.26 L137.9,193.45 L138.5,195.88 L139.1,198.54 L139.7,201.35 L140.3,204.26 L140.9,207.19 L141.5,210.08 L142.1,212.86 L142.7,215.47 L143.3,217.83 L143.9,219.87 L144.5,221.56 L145.1,222.93 L145.7,224.00 L146.3,224.81 L146.9,225.40 L147.5,225.80 L148.1,226.05 L148.7,226.18 L149.3,226.23 L149.9,226.21 L150.5,226.13 L151.1,226.00 L151.7,225.83 L152.3,225.62 L152.9,225.38 L153.5,225.13 L154.1,224.87 L154.7,224.60 L155.3,224.34 L155.9,224.10 L156.5,223.89 L157.1,223.70 L157.7,223.56 L158.3,223.46 L158.9,223.43 L159.5,223.46 L160.1,223.56 L160.7,223.74 L161.3,223.99 L161.9,224.30 L162.5,224.67 L163.1,225.08 L163.7,225.54 L164.3,226.03 L164.9,226.56 L165.5,227.10 L166.1,227.66 L166.7,228.23 L167.3,228.81 L167.9,229.37 L168.5,229.93 L169.1,230.47 L169.7,230.99 L170.3,231.47 L170.9,231.91 L171.5,232.24 L172.1,232.37 L172.7,232.25 L173.3,231.79 L173.9,230.97 L174.5,229.93 L175.1,228.87 L175.7,227.98 L176.3,227.41 L176.9,227.07 L177.5,226.75 L178.1,226.24 L178.7,225.35 L179.3,224.11 L179.9,222.89 L180.5,222.34 L181.1,222.19 L181.7,222.20 L182.3,222.36 L182.9,222.66 L183.5,223.08 L184.1,223.61 L184.7,224.24 L185.3,224.96 L185.9,225.77 L186.5,226.64 L187.1,227.56 L187.7,228.53 L188.3,229.53 L188.9,230.55 L189.5,231.59 L190.1,232.62 L190.7,233.64 L191.3,234.63 L191.9,235.59 L192.5,236.52 L193.1,237.41 L193.7,238.28 L194.3,239.12 L194.9,239.93 L195.5,240.72 L196.1,241.50 L196.7,242.25 L197.3,242.99 L197.9,243.72 L198.5,244.43 L199.1,245.14 L199.7,245.85 L200.3,246.55 L200.9,247.25 L201.5,247.95 L202.1,248.65 L202.7,249.36 L203.3,250.08 L203.9,250.80 L204.5,251.52 L205.1,252.24 L205.7,252.96 L206.3,253.68 L206.9,254.39 L207.5,255.09 L208.1,255.78 L208.7,256.47 L209.3,257.14 L209.9,257.79 L210.5,258.43 L211.1,259.04 L211.7,259.64 L212.3,260.21 L212.9,260.76 L213.5,261.29 L214.1,261.79 L214.7,262.26 L215.3,262.70 L215.9,263.12 L216.5,263.51 L217.1,263.88 L217.7,264.22 L218.3,264.54 L218.9,264.82 L219.5,265.09 L220.1,265.32 L220.7,265.53 L221.3,265.72 L221.9,265.87 L222.5,266.01 L223.1,266.11 L223.7,266.19 L224.3,266.25 L224.9,266.27 L225.5,266.27 L226.1,266.25 L226.7,266.20 L227.3,266.13 L227.9,266.02 L228.5,265.90 L229.1,265.75 L229.7,265.57 L230.3,265.37 L230.9,265.14 L231.5,264.89 L232.1,264.62 L232.7,264.32 L233.3,263.99 L233.9,263.64 L234.5,263.27 L235.1,262.87 L235.7,262.45 L236.3,262.01 L236.9,261.55 L237.5,261.07 L238.1,260.57 L238.7,260.05 L239.3,259.52 L239.9,258.97 L240.5,258.41 L241.1,257.84 L241.7,257.27 L242.3,256.70 L242.9,256.13 L243.5,255.57 L244.1,255.03 L244.7,254.51 L245.3,254.01 L245.9,253.54 L246.5,253.14 L247.1,252.82 L247.7,252.63 L248.3,252.59 L248.9,252.72 L249.5,252.99 L250.1,253.37 L250.7,253.80 L251.3,254.26 L251.9,254.73 L252.5,255.21 L253.1,255.71 L253.7,256.22 L254.3,256.76 L254.9,257.31 L255.5,257.89 L256.1,258.50 L256.7,259.13 L257.3,259.78 L257.9,260.43 L258.5,261.10 L259.1,261.75 L259.7,262.40 L260.3,263.03 L260.9,263.63 L261.5,264.21 L262.1,264.75 L262.7,265.24 L263.3,265.68 L263.9,266.07 L264.5,266.39 L265.1,266.65 L265.7,266.82 L266.3,266.92 L266.9,266.93 L267.5,266.85 L268.1,266.71 L268.7,266.50 L269.3,266.24 L269.9,265.93 L270.5,265.58 L271.1,265.21 L271.7,264.81 L272.3,264.40 L272.9,263.99 L273.5,263.57 L274.1,263.15 L274.7,262.74 L275.3,262.34 L275.9,261.96 L276.5,261.60 L277.1,261.27 L277.7,260.98 L278.3,260.75 L278.9,260.61 L279.5,260.60 L280.1,260.72 L280.7,260.98 L281.3,261.37 L281.9,261.86 L282.5,262.43 L283.1,263.07 L283.7,263.77 L284.3,264.53 L284.9,265.34 L285.5,266.19 L286.1,267.08 L286.7,268.01 L287.3,268.97 L287.9,269.95 L288.5,270.95 L289.1,271.96 L289.7,272.96 L290.3,273.95 L290.9,274.92 L291.5,275.85 L292.1,276.73 L292.7,277.56 L293.3,278.32 L293.9,279.00 L294.5,279.62 L295.1,280.17 L295.7,280.67 L296.3,281.12 L296.9,281.53 L297.5,281.92 L298.1,282.27 L298.7,282.61 L299.3,282.94 L299.9,283.26 L300.5,283.56 L301.1,283.85 L301.7,284.13 L302.3,284.39 L302.9,284.65 L303.5,284.90 L304.1,285.13 L304.7,285.36 L305.3,285.57 L305.9,285.78 L306.5,285.97 L307.1,286.16 L307.7,286.34 L308.3,286.51 L308.9,286.68 L309.5,286.83 L310.1,286.98 L310.7,287.13 L311.3,287.26 L311.9,287.39 L312.5,287.52 L313.1,287.64 L313.7,287.76 L314.3,287.87 L314.9,287.97 L315.5,288.08 L316.1,288.18 L316.7,288.27 L317.3,288.37 L317.9,288.46 L318.5,288.55 L319.1,288.64 L319.7,288.72 L320.3,288.81 L320.9,288.89 L321.5,288.98 L322.1,289.06 L322.7,289.14 L323.3,289.22 L323.9,289.30 L324.5,289.38 L325.1,289.45 L325.7,289.53 L326.3,289.61 L326.9,289.68 L327.5,289.75 L328.1,289.82 L328.7,289.89 L329.3,289.96 L329.9,290.03 L330.5,290.10 L331.1,290.16 L331.7,290.23 L332.3,290.29 L332.9,290.35 L333.5,290.41 L334.1,290.47 L334.7,290.53 L335.3,290.58 L335.9,290.64 L336.5,290.69 L337.1,290.74 L337.7,290.79 L338.3,290.84 L338.9,290.89 L339.5,290.93 L340.1,290.98 L340.7,291.02 L341.3,291.06 L341.9,291.10 L342.5,291.14 L343.1,291.17 L343.7,291.21 L344.3,291.24 L344.9,291.27 L345.5,291.30 L346.1,291.33 L346.7,291.36 L347.3,291.38 L347.9,291.41 L348.5,291.43 L349.1,291.45 L349.7,291.47 L350.3,291.48 L350.9,291.50 L351.5,291.51 L352.1,291.52 L352.7,291.53 L353.3,291.53 L353.9,291.54 L354.5,291.54 L355.1,291.54 L355.7,291.54 L356.3,291.54 L356.9,291.53 L357.5,291.53 L358.1,291.52 L358.7,291.51 L359.3,291.49 L359.9,291.48 L360.5,291.46 L361.1,291.44 L361.7,291.42 L362.0,291.41" fill="none" stroke="#ea0a86" stroke-width="2.15" stroke-linejoin="round" stroke-linecap="round"/>
<line x1="27.8" y1="200.5" x2="31.06" y2="34.60" stroke="#0000ff" stroke-width="1.9" stroke-dasharray="5,3.5,1.6,2.7,1.6,3.5"/>
<path d="M31.3,22.2 L34.41,34.66 L27.71,34.53 Z" fill="#0000ff"/>
<line x1="51.7" y1="196.5" x2="55.23" y2="35.50" stroke="#0000ff" stroke-width="1.9" stroke-dasharray="5,3.5,1.6,2.7,1.6,3.5"/>
<path d="M55.5,23.1 L58.58,35.57 L51.88,35.42 Z" fill="#0000ff"/>
<line x1="74.5" y1="211.4" x2="79.60" y2="53.39" stroke="#0000ff" stroke-width="1.9" stroke-dasharray="5,3.5,1.6,2.7,1.6,3.5"/>
<path d="M80,41 L82.95,53.50 L76.25,53.29 Z" fill="#0000ff"/>
<line x1="129.8" y1="189.2" x2="132.21" y2="29.40" stroke="#0000ff" stroke-width="1.9" stroke-dasharray="5,3.5,1.6,2.7,1.6,3.5"/>
<path d="M132.4,17 L135.56,29.45 L128.86,29.35 Z" fill="#0000ff"/>
<line x1="139.7" y1="211.3" x2="144.45" y2="42.90" stroke="#0000ff" stroke-width="1.9" stroke-dasharray="5,3.5,1.6,2.7,1.6,3.5"/>
<path d="M144.8,30.5 L147.80,42.99 L141.10,42.80 Z" fill="#0000ff"/>
<line x1="160.1" y1="228.8" x2="178.41" y2="77.61" stroke="#0000ff" stroke-width="1.9" stroke-dasharray="5,3.5,1.6,2.7,1.6,3.5"/>
<path d="M179.9,65.3 L181.73,78.01 L175.08,77.21 Z" fill="#0000ff"/>
<line x1="182" y1="222.3" x2="191.56" y2="82.07" stroke="#0000ff" stroke-width="1.9" stroke-dasharray="5,3.5,1.6,2.7,1.6,3.5"/>
<path d="M192.4,69.7 L194.90,82.30 L188.21,81.84 Z" fill="#0000ff"/>
<line x1="247.1" y1="252.7" x2="253.84" y2="102.39" stroke="#0000ff" stroke-width="1.9" stroke-dasharray="5,3.5,1.6,2.7,1.6,3.5"/>
<path d="M254.4,90 L257.19,102.54 L250.50,102.24 Z" fill="#0000ff"/>
<line x1="278.5" y1="260.6" x2="286.90" y2="111.98" stroke="#0000ff" stroke-width="1.9" stroke-dasharray="5,3.5,1.6,2.7,1.6,3.5"/>
<path d="M287.6,99.6 L290.24,112.17 L283.56,111.79 Z" fill="#0000ff"/>
<rect x="20.6" y="0.8" width="342.30" height="306.40" fill="none" stroke="#000" stroke-width="1.5"/>
<line x1="20.60" y1="307.2" x2="20.60" y2="310.5" stroke="#000" stroke-width="1.25"/>
<line x1="45.05" y1="307.2" x2="45.05" y2="313.7" stroke="#000" stroke-width="1.25"/>
<text x="45.05" y="324.6" font-size="11.3" font-weight="bold" text-anchor="middle">200</text>
<line x1="69.50" y1="307.2" x2="69.50" y2="310.5" stroke="#000" stroke-width="1.25"/>
<line x1="93.95" y1="307.2" x2="93.95" y2="313.7" stroke="#000" stroke-width="1.25"/>
<text x="93.95" y="324.6" font-size="11.3" font-weight="bold" text-anchor="middle">400</text>
<line x1="118.40" y1="307.2" x2="118.40" y2="310.5" stroke="#000" stroke-width="1.25"/>
<line x1="142.85" y1="307.2" x2="142.85" y2="313.7" stroke="#000" stroke-width="1.25"/>
<text x="142.85" y="324.6" font-size="11.3" font-weight="bold" text-anchor="middle">600</text>
<line x1="167.30" y1="307.2" x2="167.30" y2="310.5" stroke="#000" stroke-width="1.25"/>
<line x1="191.75" y1="307.2" x2="191.75" y2="313.7" stroke="#000" stroke-width="1.25"/>
<text x="191.75" y="324.6" font-size="11.3" font-weight="bold" text-anchor="middle">800</text>
<line x1="216.20" y1="307.2" x2="216.20" y2="310.5" stroke="#000" stroke-width="1.25"/>
<line x1="240.65" y1="307.2" x2="240.65" y2="313.7" stroke="#000" stroke-width="1.25"/>
<text x="240.65" y="324.6" font-size="11.3" font-weight="bold" text-anchor="middle">1000</text>
<line x1="265.10" y1="307.2" x2="265.10" y2="310.5" stroke="#000" stroke-width="1.25"/>
<line x1="289.55" y1="307.2" x2="289.55" y2="313.7" stroke="#000" stroke-width="1.25"/>
<text x="289.55" y="324.6" font-size="11.3" font-weight="bold" text-anchor="middle">1200</text>
<line x1="314.00" y1="307.2" x2="314.00" y2="310.5" stroke="#000" stroke-width="1.25"/>
<line x1="338.45" y1="307.2" x2="338.45" y2="313.7" stroke="#000" stroke-width="1.25"/>
<text x="338.45" y="324.6" font-size="11.3" font-weight="bold" text-anchor="middle">1400</text>
<line x1="362.90" y1="307.2" x2="362.90" y2="310.5" stroke="#000" stroke-width="1.25"/>
<text x="191.3" y="340.8" font-size="14.5" font-weight="bold" text-anchor="middle">Wavenumber (cm<tspan dy="-5.2" font-size="9.5">-1</tspan><tspan dy="5.2">)</tspan></text>
<text transform="translate(14.7,199.9) rotate(-90)" x="0" y="0" font-size="15.3" font-weight="bold">Intensity (a.u.)</text>
<text x="0.2" y="17.3" font-size="15" font-weight="bold">(a)</text>
<text x="25.3" y="15" font-size="11" font-weight="bold">M1</text>
<text x="49.6" y="15" font-size="11" font-weight="bold">M2</text>
<text x="76.6" y="33.1" font-size="11" font-weight="bold">M3</text>
<text x="102.7" y="48" font-size="11" font-weight="bold">M4</text>
<text x="116.2" y="12.2" font-size="11" font-weight="bold">M5</text>
<text x="144.9" y="23.8" font-size="11" font-weight="bold">M6</text>
<text x="172.6" y="58.5" font-size="11" font-weight="bold">M7</text>
<text x="191.1" y="63.8" font-size="11" font-weight="bold">M8</text>
<text x="248.8" y="82.3" font-size="11" font-weight="bold">M9</text>
<text x="282.5" y="86.5" font-size="11" font-weight="bold">M10</text>
<text transform="translate(310.3,115.8) scale(0.97,1)" font-size="13.5" font-weight="bold"><tspan font-style="italic">x</tspan> = 0.8</text>
<text transform="translate(310.3,139.4) scale(0.97,1)" font-size="13.5" font-weight="bold"><tspan font-style="italic">x</tspan> = 0.7</text>
<text transform="translate(310.3,164.0) scale(0.97,1)" font-size="13.5" font-weight="bold"><tspan font-style="italic">x</tspan> = 0.73</text>
<text transform="translate(310.3,187.4) scale(0.97,1)" font-size="13.5" font-weight="bold"><tspan font-style="italic">x</tspan> = 0.6</text>
<text transform="translate(310.3,210.6) scale(0.97,1)" font-size="13.5" font-weight="bold"><tspan font-style="italic">x</tspan> = 0.5</text>
<text transform="translate(310.3,234.9) scale(0.97,1)" font-size="13.5" font-weight="bold"><tspan font-style="italic">x</tspan> = 0.4</text>
<text transform="translate(310.3,258.9) scale(0.97,1)" font-size="13.5" font-weight="bold"><tspan font-style="italic">x</tspan> = 0.2</text>
<text transform="translate(310.3,282.5) scale(0.97,1)" font-size="13.5" font-weight="bold"><tspan font-style="italic">x</tspan> = 0</text>
<polyline points="418.30,45.00 464.66,39.70 511.02,32.60 534.20,26.10 557.38,20.40 580.56,15.70 587.51,14.80 603.74,13.10" fill="none" stroke="#ec1c24" stroke-width="1.3"/>
<circle cx="418.30" cy="45.00" r="2.6" fill="#fff"/>
<rect x="415.60" y="42.30" width="5.40" height="2.70" fill="#ec1c24"/>
<rect x="415.60" y="42.30" width="5.40" height="5.40" fill="none" stroke="#ec1c24" stroke-width="0.9"/>
<circle cx="464.66" cy="39.70" r="2.6" fill="#fff"/>
<rect x="461.96" y="37.00" width="5.40" height="2.70" fill="#ec1c24"/>
<rect x="461.96" y="37.00" width="5.40" height="5.40" fill="none" stroke="#ec1c24" stroke-width="0.9"/>
<circle cx="511.02" cy="32.60" r="2.6" fill="#fff"/>
<rect x="508.32" y="29.90" width="5.40" height="2.70" fill="#ec1c24"/>
<rect x="508.32" y="29.90" width="5.40" height="5.40" fill="none" stroke="#ec1c24" stroke-width="0.9"/>
<circle cx="534.20" cy="26.10" r="2.6" fill="#fff"/>
<rect x="531.50" y="23.40" width="5.40" height="2.70" fill="#ec1c24"/>
<rect x="531.50" y="23.40" width="5.40" height="5.40" fill="none" stroke="#ec1c24" stroke-width="0.9"/>
<circle cx="557.38" cy="20.40" r="2.6" fill="#fff"/>
<rect x="554.68" y="17.70" width="5.40" height="2.70" fill="#ec1c24"/>
<rect x="554.68" y="17.70" width="5.40" height="5.40" fill="none" stroke="#ec1c24" stroke-width="0.9"/>
<circle cx="580.56" cy="15.70" r="2.6" fill="#fff"/>
<rect x="577.86" y="13.00" width="5.40" height="2.70" fill="#ec1c24"/>
<rect x="577.86" y="13.00" width="5.40" height="5.40" fill="none" stroke="#ec1c24" stroke-width="0.9"/>
<circle cx="587.51" cy="14.80" r="2.6" fill="#fff"/>
<rect x="584.81" y="12.10" width="5.40" height="2.70" fill="#ec1c24"/>
<rect x="584.81" y="12.10" width="5.40" height="5.40" fill="none" stroke="#ec1c24" stroke-width="0.9"/>
<circle cx="603.74" cy="13.10" r="2.6" fill="#fff"/>
<rect x="601.04" y="10.40" width="5.40" height="2.70" fill="#ec1c24"/>
<rect x="601.04" y="10.40" width="5.40" height="5.40" fill="none" stroke="#ec1c24" stroke-width="0.9"/>
<polyline points="418.30,68.70 464.66,66.00 511.02,64.00 534.20,60.90 557.38,58.20 580.56,56.50 587.51,56.10 603.74,55.10" fill="none" stroke="#3c6eae" stroke-width="1.3"/>
<circle cx="418.30" cy="68.70" r="2.6" fill="#fff"/>
<path d="M416.40,68.70 L420.20,68.70 L421.70,71.30 L414.90,71.30 Z" fill="#3c6eae"/>
<path d="M418.30,65.40 L421.70,71.30 L414.90,71.30 Z" fill="none" stroke="#3c6eae" stroke-width="0.9"/>
<circle cx="464.66" cy="66.00" r="2.6" fill="#fff"/>
<path d="M462.76,66.00 L466.56,66.00 L468.06,68.60 L461.26,68.60 Z" fill="#3c6eae"/>
<path d="M464.66,62.70 L468.06,68.60 L461.26,68.60 Z" fill="none" stroke="#3c6eae" stroke-width="0.9"/>
<circle cx="511.02" cy="64.00" r="2.6" fill="#fff"/>
<path d="M509.12,64.00 L512.92,64.00 L514.42,66.60 L507.62,66.60 Z" fill="#3c6eae"/>
<path d="M511.02,60.70 L514.42,66.60 L507.62,66.60 Z" fill="none" stroke="#3c6eae" stroke-width="0.9"/>
<circle cx="534.20" cy="60.90" r="2.6" fill="#fff"/>
<path d="M532.30,60.90 L536.10,60.90 L537.60,63.50 L530.80,63.50 Z" fill="#3c6eae"/>
<path d="M534.20,57.60 L537.60,63.50 L530.80,63.50 Z" fill="none" stroke="#3c6eae" stroke-width="0.9"/>
<circle cx="557.38" cy="58.20" r="2.6" fill="#fff"/>
<path d="M555.48,58.20 L559.28,58.20 L560.78,60.80 L553.98,60.80 Z" fill="#3c6eae"/>
<path d="M557.38,54.90 L560.78,60.80 L553.98,60.80 Z" fill="none" stroke="#3c6eae" stroke-width="0.9"/>
<circle cx="580.56" cy="56.50" r="2.6" fill="#fff"/>
<path d="M578.66,56.50 L582.46,56.50 L583.96,59.10 L577.16,59.10 Z" fill="#3c6eae"/>
<path d="M580.56,53.20 L583.96,59.10 L577.16,59.10 Z" fill="none" stroke="#3c6eae" stroke-width="0.9"/>
<circle cx="587.51" cy="56.10" r="2.6" fill="#fff"/>
<path d="M585.61,56.10 L589.41,56.10 L590.91,58.70 L584.11,58.70 Z" fill="#3c6eae"/>
<path d="M587.51,52.80 L590.91,58.70 L584.11,58.70 Z" fill="none" stroke="#3c6eae" stroke-width="0.9"/>
<circle cx="603.74" cy="55.10" r="2.6" fill="#fff"/>
<path d="M601.84,55.10 L605.64,55.10 L607.14,57.70 L600.34,57.70 Z" fill="#3c6eae"/>
<path d="M603.74,51.80 L607.14,57.70 L600.34,57.70 Z" fill="none" stroke="#3c6eae" stroke-width="0.9"/>
<polyline points="418.30,94.60 464.66,92.50 511.02,90.80 534.20,87.40 557.38,84.70 580.56,83.70 587.51,83.40 603.74,81.70" fill="none" stroke="#f7b902" stroke-width="1.3"/>
<circle cx="418.30" cy="94.60" r="2.6" fill="#fff"/>
<path d="M418.30,91.70 A2.9,2.9 0 0 1 418.30,97.50 Z" fill="#f7b902"/>
<circle cx="418.30" cy="94.60" r="2.9" fill="none" stroke="#f7b902" stroke-width="1.2"/>
<circle cx="464.66" cy="92.50" r="2.6" fill="#fff"/>
<path d="M464.66,89.60 A2.9,2.9 0 0 1 464.66,95.40 Z" fill="#f7b902"/>
<circle cx="464.66" cy="92.50" r="2.9" fill="none" stroke="#f7b902" stroke-width="1.2"/>
<circle cx="511.02" cy="90.80" r="2.6" fill="#fff"/>
<path d="M511.02,87.90 A2.9,2.9 0 0 1 511.02,93.70 Z" fill="#f7b902"/>
<circle cx="511.02" cy="90.80" r="2.9" fill="none" stroke="#f7b902" stroke-width="1.2"/>
<circle cx="534.20" cy="87.40" r="2.6" fill="#fff"/>
<path d="M534.20,84.50 A2.9,2.9 0 0 1 534.20,90.30 Z" fill="#f7b902"/>
<circle cx="534.20" cy="87.40" r="2.9" fill="none" stroke="#f7b902" stroke-width="1.2"/>
<circle cx="557.38" cy="84.70" r="2.6" fill="#fff"/>
<path d="M557.38,81.80 A2.9,2.9 0 0 1 557.38,87.60 Z" fill="#f7b902"/>
<circle cx="557.38" cy="84.70" r="2.9" fill="none" stroke="#f7b902" stroke-width="1.2"/>
<circle cx="580.56" cy="83.70" r="2.6" fill="#fff"/>
<path d="M580.56,80.80 A2.9,2.9 0 0 1 580.56,86.60 Z" fill="#f7b902"/>
<circle cx="580.56" cy="83.70" r="2.9" fill="none" stroke="#f7b902" stroke-width="1.2"/>
<circle cx="587.51" cy="83.40" r="2.6" fill="#fff"/>
<path d="M587.51,80.50 A2.9,2.9 0 0 1 587.51,86.30 Z" fill="#f7b902"/>
<circle cx="587.51" cy="83.40" r="2.9" fill="none" stroke="#f7b902" stroke-width="1.2"/>
<circle cx="603.74" cy="81.70" r="2.6" fill="#fff"/>
<path d="M603.74,78.80 A2.9,2.9 0 0 1 603.74,84.60 Z" fill="#f7b902"/>
<circle cx="603.74" cy="81.70" r="2.9" fill="none" stroke="#f7b902" stroke-width="1.2"/>
<polyline points="418.30,113.60 464.66,112.60 511.02,111.20 534.20,110.20 557.38,108.50 580.56,107.50 587.51,107.10 603.74,106.50" fill="none" stroke="#3cc677" stroke-width="1.3"/>
<circle cx="418.30" cy="113.60" r="2.6" fill="#fff"/>
<path d="M418.30,110.70 A2.9,2.9 0 0 1 418.30,116.50 Z" fill="#3cc677"/>
<circle cx="418.30" cy="113.60" r="2.9" fill="none" stroke="#3cc677" stroke-width="1.2"/>
<circle cx="464.66" cy="112.60" r="2.6" fill="#fff"/>
<path d="M464.66,109.70 A2.9,2.9 0 0 1 464.66,115.50 Z" fill="#3cc677"/>
<circle cx="464.66" cy="112.60" r="2.9" fill="none" stroke="#3cc677" stroke-width="1.2"/>
<circle cx="511.02" cy="111.20" r="2.6" fill="#fff"/>
<path d="M511.02,108.30 A2.9,2.9 0 0 1 511.02,114.10 Z" fill="#3cc677"/>
<circle cx="511.02" cy="111.20" r="2.9" fill="none" stroke="#3cc677" stroke-width="1.2"/>
<circle cx="534.20" cy="110.20" r="2.6" fill="#fff"/>
<path d="M534.20,107.30 A2.9,2.9 0 0 1 534.20,113.10 Z" fill="#3cc677"/>
<circle cx="534.20" cy="110.20" r="2.9" fill="none" stroke="#3cc677" stroke-width="1.2"/>
<circle cx="557.38" cy="108.50" r="2.6" fill="#fff"/>
<path d="M557.38,105.60 A2.9,2.9 0 0 1 557.38,111.40 Z" fill="#3cc677"/>
<circle cx="557.38" cy="108.50" r="2.9" fill="none" stroke="#3cc677" stroke-width="1.2"/>
<circle cx="580.56" cy="107.50" r="2.6" fill="#fff"/>
<path d="M580.56,104.60 A2.9,2.9 0 0 1 580.56,110.40 Z" fill="#3cc677"/>
<circle cx="580.56" cy="107.50" r="2.9" fill="none" stroke="#3cc677" stroke-width="1.2"/>
<circle cx="587.51" cy="107.10" r="2.6" fill="#fff"/>
<path d="M587.51,104.20 A2.9,2.9 0 0 1 587.51,110.00 Z" fill="#3cc677"/>
<circle cx="587.51" cy="107.10" r="2.9" fill="none" stroke="#3cc677" stroke-width="1.2"/>
<circle cx="603.74" cy="106.50" r="2.6" fill="#fff"/>
<path d="M603.74,103.60 A2.9,2.9 0 0 1 603.74,109.40 Z" fill="#3cc677"/>
<circle cx="603.74" cy="106.50" r="2.9" fill="none" stroke="#3cc677" stroke-width="1.2"/>
<polyline points="418.30,132.30 464.66,130.60 511.02,129.50 534.20,128.90 557.38,127.10 580.56,125.40 587.51,125.10 603.74,124.80" fill="none" stroke="#6a6ab4" stroke-width="1.3"/>
<circle cx="418.30" cy="132.30" r="2.6" fill="#fff"/>
<path d="M414.90,132.30 L421.10,132.30 L421.10,135.60 Z" fill="#6a6ab4"/>
<path d="M414.90,132.30 L421.10,129.00 L421.10,135.60 Z" fill="none" stroke="#6a6ab4" stroke-width="0.9"/>
<circle cx="464.66" cy="130.60" r="2.6" fill="#fff"/>
<path d="M461.26,130.60 L467.46,130.60 L467.46,133.90 Z" fill="#6a6ab4"/>
<path d="M461.26,130.60 L467.46,127.30 L467.46,133.90 Z" fill="none" stroke="#6a6ab4" stroke-width="0.9"/>
<circle cx="511.02" cy="129.50" r="2.6" fill="#fff"/>
<path d="M507.62,129.50 L513.82,129.50 L513.82,132.80 Z" fill="#6a6ab4"/>
<path d="M507.62,129.50 L513.82,126.20 L513.82,132.80 Z" fill="none" stroke="#6a6ab4" stroke-width="0.9"/>
<circle cx="534.20" cy="128.90" r="2.6" fill="#fff"/>
<path d="M530.80,128.90 L537.00,128.90 L537.00,132.20 Z" fill="#6a6ab4"/>
<path d="M530.80,128.90 L537.00,125.60 L537.00,132.20 Z" fill="none" stroke="#6a6ab4" stroke-width="0.9"/>
<circle cx="557.38" cy="127.10" r="2.6" fill="#fff"/>
<path d="M553.98,127.10 L560.18,127.10 L560.18,130.40 Z" fill="#6a6ab4"/>
<path d="M553.98,127.10 L560.18,123.80 L560.18,130.40 Z" fill="none" stroke="#6a6ab4" stroke-width="0.9"/>
<circle cx="580.56" cy="125.40" r="2.6" fill="#fff"/>
<path d="M577.16,125.40 L583.36,125.40 L583.36,128.70 Z" fill="#6a6ab4"/>
<path d="M577.16,125.40 L583.36,122.10 L583.36,128.70 Z" fill="none" stroke="#6a6ab4" stroke-width="0.9"/>
<circle cx="587.51" cy="125.10" r="2.6" fill="#fff"/>
<path d="M584.11,125.10 L590.31,125.10 L590.31,128.40 Z" fill="#6a6ab4"/>
<path d="M584.11,125.10 L590.31,121.80 L590.31,128.40 Z" fill="none" stroke="#6a6ab4" stroke-width="0.9"/>
<circle cx="603.74" cy="124.80" r="2.6" fill="#fff"/>
<path d="M600.34,124.80 L606.54,124.80 L606.54,128.10 Z" fill="#6a6ab4"/>
<path d="M600.34,124.80 L606.54,121.50 L606.54,128.10 Z" fill="none" stroke="#6a6ab4" stroke-width="0.9"/>
<polyline points="418.30,144.20 464.66,144.80 511.02,143.10 534.20,144.80 557.38,147.20 580.56,143.10 587.51,145.90 603.74,145.90" fill="none" stroke="#d1a115" stroke-width="1.3"/>
<circle cx="418.30" cy="144.20" r="2.6" fill="#fff"/>
<path d="M418.30,140.65 L421.85,144.20 L418.30,147.75 Z" fill="#d1a115"/>
<path d="M418.30,140.65 L421.85,144.20 L418.30,147.75 L414.75,144.20 Z" fill="none" stroke="#d1a115" stroke-width="0.9"/>
<circle cx="464.66" cy="144.80" r="2.6" fill="#fff"/>
<path d="M464.66,141.25 L468.21,144.80 L464.66,148.35 Z" fill="#d1a115"/>
<path d="M464.66,141.25 L468.21,144.80 L464.66,148.35 L461.11,144.80 Z" fill="none" stroke="#d1a115" stroke-width="0.9"/>
<circle cx="511.02" cy="143.10" r="2.6" fill="#fff"/>
<path d="M511.02,139.55 L514.57,143.10 L511.02,146.65 Z" fill="#d1a115"/>
<path d="M511.02,139.55 L514.57,143.10 L511.02,146.65 L507.47,143.10 Z" fill="none" stroke="#d1a115" stroke-width="0.9"/>
<circle cx="534.20" cy="144.80" r="2.6" fill="#fff"/>
<path d="M534.20,141.25 L537.75,144.80 L534.20,148.35 Z" fill="#d1a115"/>
<path d="M534.20,141.25 L537.75,144.80 L534.20,148.35 L530.65,144.80 Z" fill="none" stroke="#d1a115" stroke-width="0.9"/>
<circle cx="557.38" cy="147.20" r="2.6" fill="#fff"/>
<path d="M557.38,143.65 L560.93,147.20 L557.38,150.75 Z" fill="#d1a115"/>
<path d="M557.38,143.65 L560.93,147.20 L557.38,150.75 L553.83,147.20 Z" fill="none" stroke="#d1a115" stroke-width="0.9"/>
<circle cx="580.56" cy="143.10" r="2.6" fill="#fff"/>
<path d="M580.56,139.55 L584.11,143.10 L580.56,146.65 Z" fill="#d1a115"/>
<path d="M580.56,139.55 L584.11,143.10 L580.56,146.65 L577.01,143.10 Z" fill="none" stroke="#d1a115" stroke-width="0.9"/>
<circle cx="587.51" cy="145.90" r="2.6" fill="#fff"/>
<path d="M587.51,142.35 L591.06,145.90 L587.51,149.45 Z" fill="#d1a115"/>
<path d="M587.51,142.35 L591.06,145.90 L587.51,149.45 L583.96,145.90 Z" fill="none" stroke="#d1a115" stroke-width="0.9"/>
<circle cx="603.74" cy="145.90" r="2.6" fill="#fff"/>
<path d="M603.74,142.35 L607.29,145.90 L603.74,149.45 Z" fill="#d1a115"/>
<path d="M603.74,142.35 L607.29,145.90 L603.74,149.45 L600.19,145.90 Z" fill="none" stroke="#d1a115" stroke-width="0.9"/>
<polyline points="418.30,195.30 464.66,190.20 511.02,183.00 534.20,175.50 557.38,170.40 580.56,165.30 587.51,164.30 603.74,159.50" fill="none" stroke="#fa6a6e" stroke-width="1.3"/>
<circle cx="418.30" cy="195.30" r="2.6" fill="#fff"/>
<path d="M418.30,191.80 L419.24,194.01 L421.63,194.22 L419.82,195.79 L420.36,198.13 L418.30,196.90 L416.24,198.13 L416.78,195.79 L414.97,194.22 L417.36,194.01 Z" fill="#fff" stroke="#fff" stroke-width="2.6" stroke-linejoin="round"/>
<path d="M418.30,191.80 L419.24,194.01 L421.63,194.22 L419.82,195.79 L420.36,198.13 L418.30,196.90 L416.24,198.13 L416.78,195.79 L414.97,194.22 L417.36,194.01 Z" fill="#fa6a6e" fill-opacity="0.85" stroke="#fa6a6e" stroke-width="0.8" stroke-linejoin="round"/>
<circle cx="464.66" cy="190.20" r="2.6" fill="#fff"/>
<path d="M464.66,186.70 L465.60,188.91 L467.99,189.12 L466.18,190.69 L466.72,193.03 L464.66,191.80 L462.60,193.03 L463.14,190.69 L461.33,189.12 L463.72,188.91 Z" fill="#fff" stroke="#fff" stroke-width="2.6" stroke-linejoin="round"/>
<path d="M464.66,186.70 L465.60,188.91 L467.99,189.12 L466.18,190.69 L466.72,193.03 L464.66,191.80 L462.60,193.03 L463.14,190.69 L461.33,189.12 L463.72,188.91 Z" fill="#fa6a6e" fill-opacity="0.85" stroke="#fa6a6e" stroke-width="0.8" stroke-linejoin="round"/>
<circle cx="511.02" cy="183.00" r="2.6" fill="#fff"/>
<path d="M511.02,179.50 L511.96,181.71 L514.35,181.92 L512.54,183.49 L513.08,185.83 L511.02,184.60 L508.96,185.83 L509.50,183.49 L507.69,181.92 L510.08,181.71 Z" fill="#fff" stroke="#fff" stroke-width="2.6" stroke-linejoin="round"/>
<path d="M511.02,179.50 L511.96,181.71 L514.35,181.92 L512.54,183.49 L513.08,185.83 L511.02,184.60 L508.96,185.83 L509.50,183.49 L507.69,181.92 L510.08,181.71 Z" fill="#fa6a6e" fill-opacity="0.85" stroke="#fa6a6e" stroke-width="0.8" stroke-linejoin="round"/>
<circle cx="534.20" cy="175.50" r="2.6" fill="#fff"/>
<path d="M534.20,172.00 L535.14,174.21 L537.53,174.42 L535.72,175.99 L536.26,178.33 L534.20,177.10 L532.14,178.33 L532.68,175.99 L530.87,174.42 L533.26,174.21 Z" fill="#fff" stroke="#fff" stroke-width="2.6" stroke-linejoin="round"/>
<path d="M534.20,172.00 L535.14,174.21 L537.53,174.42 L535.72,175.99 L536.26,178.33 L534.20,177.10 L532.14,178.33 L532.68,175.99 L530.87,174.42 L533.26,174.21 Z" fill="#fa6a6e" fill-opacity="0.85" stroke="#fa6a6e" stroke-width="0.8" stroke-linejoin="round"/>
<circle cx="557.38" cy="170.40" r="2.6" fill="#fff"/>
<path d="M557.38,166.90 L558.32,169.11 L560.71,169.32 L558.90,170.89 L559.44,173.23 L557.38,172.00 L555.32,173.23 L555.86,170.89 L554.05,169.32 L556.44,169.11 Z" fill="#fff" stroke="#fff" stroke-width="2.6" stroke-linejoin="round"/>
<path d="M557.38,166.90 L558.32,169.11 L560.71,169.32 L558.90,170.89 L559.44,173.23 L557.38,172.00 L555.32,173.23 L555.86,170.89 L554.05,169.32 L556.44,169.11 Z" fill="#fa6a6e" fill-opacity="0.85" stroke="#fa6a6e" stroke-width="0.8" stroke-linejoin="round"/>
<circle cx="580.56" cy="165.30" r="2.6" fill="#fff"/>
<path d="M580.56,161.80 L581.50,164.01 L583.89,164.22 L582.08,165.79 L582.62,168.13 L580.56,166.90 L578.50,168.13 L579.04,165.79 L577.23,164.22 L579.62,164.01 Z" fill="#fff" stroke="#fff" stroke-width="2.6" stroke-linejoin="round"/>
<path d="M580.56,161.80 L581.50,164.01 L583.89,164.22 L582.08,165.79 L582.62,168.13 L580.56,166.90 L578.50,168.13 L579.04,165.79 L577.23,164.22 L579.62,164.01 Z" fill="#fa6a6e" fill-opacity="0.85" stroke="#fa6a6e" stroke-width="0.8" stroke-linejoin="round"/>
<circle cx="587.51" cy="164.30" r="2.6" fill="#fff"/>
<path d="M587.51,160.80 L588.45,163.01 L590.84,163.22 L589.04,164.79 L589.57,167.13 L587.51,165.90 L585.46,167.13 L585.99,164.79 L584.19,163.22 L586.57,163.01 Z" fill="#fff" stroke="#fff" stroke-width="2.6" stroke-linejoin="round"/>
<path d="M587.51,160.80 L588.45,163.01 L590.84,163.22 L589.04,164.79 L589.57,167.13 L587.51,165.90 L585.46,167.13 L585.99,164.79 L584.19,163.22 L586.57,163.01 Z" fill="#fa6a6e" fill-opacity="0.85" stroke="#fa6a6e" stroke-width="0.8" stroke-linejoin="round"/>
<circle cx="603.74" cy="159.50" r="2.6" fill="#fff"/>
<path d="M603.74,156.00 L604.68,158.21 L607.07,158.42 L605.26,159.99 L605.80,162.33 L603.74,161.10 L601.68,162.33 L602.22,159.99 L600.41,158.42 L602.80,158.21 Z" fill="#fff" stroke="#fff" stroke-width="2.6" stroke-linejoin="round"/>
<path d="M603.74,156.00 L604.68,158.21 L607.07,158.42 L605.26,159.99 L605.80,162.33 L603.74,161.10 L601.68,162.33 L602.22,159.99 L600.41,158.42 L602.80,158.21 Z" fill="#fa6a6e" fill-opacity="0.85" stroke="#fa6a6e" stroke-width="0.8" stroke-linejoin="round"/>
<polyline points="418.30,244.60 464.66,238.50 511.02,231.70 534.20,226.90 557.38,222.50 580.56,215.00 587.51,213.30 603.74,210.20" fill="none" stroke="#5791d4" stroke-width="1.3"/>
<circle cx="418.30" cy="244.60" r="2.6" fill="#fff"/>
<path d="M418.30,241.30 L418.80,241.66 L418.80,247.27 L416.36,247.27 L415.16,243.58 Z" fill="#5791d4"/>
<path d="M418.30,241.30 L421.44,243.58 L420.24,247.27 L416.36,247.27 L415.16,243.58 Z" fill="none" stroke="#5791d4" stroke-width="0.9"/>
<circle cx="464.66" cy="238.50" r="2.6" fill="#fff"/>
<path d="M464.66,235.20 L465.16,235.56 L465.16,241.17 L462.72,241.17 L461.52,237.48 Z" fill="#5791d4"/>
<path d="M464.66,235.20 L467.80,237.48 L466.60,241.17 L462.72,241.17 L461.52,237.48 Z" fill="none" stroke="#5791d4" stroke-width="0.9"/>
<circle cx="511.02" cy="231.70" r="2.6" fill="#fff"/>
<path d="M511.02,228.40 L511.52,228.76 L511.52,234.37 L509.08,234.37 L507.88,230.68 Z" fill="#5791d4"/>
<path d="M511.02,228.40 L514.16,230.68 L512.96,234.37 L509.08,234.37 L507.88,230.68 Z" fill="none" stroke="#5791d4" stroke-width="0.9"/>
<circle cx="534.20" cy="226.90" r="2.6" fill="#fff"/>
<path d="M534.20,223.60 L534.70,223.96 L534.70,229.57 L532.26,229.57 L531.06,225.88 Z" fill="#5791d4"/>
<path d="M534.20,223.60 L537.34,225.88 L536.14,229.57 L532.26,229.57 L531.06,225.88 Z" fill="none" stroke="#5791d4" stroke-width="0.9"/>
<circle cx="557.38" cy="222.50" r="2.6" fill="#fff"/>
<path d="M557.38,219.20 L557.88,219.56 L557.88,225.17 L555.44,225.17 L554.24,221.48 Z" fill="#5791d4"/>
<path d="M557.38,219.20 L560.52,221.48 L559.32,225.17 L555.44,225.17 L554.24,221.48 Z" fill="none" stroke="#5791d4" stroke-width="0.9"/>
<circle cx="580.56" cy="215.00" r="2.6" fill="#fff"/>
<path d="M580.56,211.70 L581.06,212.06 L581.06,217.67 L578.62,217.67 L577.42,213.98 Z" fill="#5791d4"/>
<path d="M580.56,211.70 L583.70,213.98 L582.50,217.67 L578.62,217.67 L577.42,213.98 Z" fill="none" stroke="#5791d4" stroke-width="0.9"/>
<circle cx="587.51" cy="213.30" r="2.6" fill="#fff"/>
<path d="M587.51,210.00 L588.01,210.36 L588.01,215.97 L585.57,215.97 L584.38,212.28 Z" fill="#5791d4"/>
<path d="M587.51,210.00 L590.65,212.28 L589.45,215.97 L585.57,215.97 L584.38,212.28 Z" fill="none" stroke="#5791d4" stroke-width="0.9"/>
<circle cx="603.74" cy="210.20" r="2.6" fill="#fff"/>
<path d="M603.74,206.90 L604.24,207.26 L604.24,212.87 L601.80,212.87 L600.60,209.18 Z" fill="#5791d4"/>
<path d="M603.74,206.90 L606.88,209.18 L605.68,212.87 L601.80,212.87 L600.60,209.18 Z" fill="none" stroke="#5791d4" stroke-width="0.9"/>
<polyline points="418.30,274.10 464.66,271.70 511.02,269.20 534.20,267.10 557.38,264.30 580.56,261.50 587.51,261.10 603.74,260.00" fill="none" stroke="#d9761c" stroke-width="1.3"/>
<circle cx="418.30" cy="274.10" r="2.6" fill="#fff"/>
<path d="M418.30,270.55 L414.75,274.10 L418.30,277.65 Z" fill="#d9761c"/>
<path d="M418.30,270.55 L421.85,274.10 L418.30,277.65 L414.75,274.10 Z" fill="none" stroke="#d9761c" stroke-width="0.9"/>
<circle cx="464.66" cy="271.70" r="2.6" fill="#fff"/>
<path d="M464.66,268.15 L461.11,271.70 L464.66,275.25 Z" fill="#d9761c"/>
<path d="M464.66,268.15 L468.21,271.70 L464.66,275.25 L461.11,271.70 Z" fill="none" stroke="#d9761c" stroke-width="0.9"/>
<circle cx="511.02" cy="269.20" r="2.6" fill="#fff"/>
<path d="M511.02,265.65 L507.47,269.20 L511.02,272.75 Z" fill="#d9761c"/>
<path d="M511.02,265.65 L514.57,269.20 L511.02,272.75 L507.47,269.20 Z" fill="none" stroke="#d9761c" stroke-width="0.9"/>
<circle cx="534.20" cy="267.10" r="2.6" fill="#fff"/>
<path d="M534.20,263.55 L530.65,267.10 L534.20,270.65 Z" fill="#d9761c"/>
<path d="M534.20,263.55 L537.75,267.10 L534.20,270.65 L530.65,267.10 Z" fill="none" stroke="#d9761c" stroke-width="0.9"/>
<circle cx="557.38" cy="264.30" r="2.6" fill="#fff"/>
<path d="M557.38,260.75 L553.83,264.30 L557.38,267.85 Z" fill="#d9761c"/>
<path d="M557.38,260.75 L560.93,264.30 L557.38,267.85 L553.83,264.30 Z" fill="none" stroke="#d9761c" stroke-width="0.9"/>
<circle cx="580.56" cy="261.50" r="2.6" fill="#fff"/>
<path d="M580.56,257.95 L577.01,261.50 L580.56,265.05 Z" fill="#d9761c"/>
<path d="M580.56,257.95 L584.11,261.50 L580.56,265.05 L577.01,261.50 Z" fill="none" stroke="#d9761c" stroke-width="0.9"/>
<circle cx="587.51" cy="261.10" r="2.6" fill="#fff"/>
<path d="M587.51,257.55 L583.96,261.10 L587.51,264.65 Z" fill="#d9761c"/>
<path d="M587.51,257.55 L591.06,261.10 L587.51,264.65 L583.96,261.10 Z" fill="none" stroke="#d9761c" stroke-width="0.9"/>
<circle cx="603.74" cy="260.00" r="2.6" fill="#fff"/>
<path d="M603.74,256.45 L600.19,260.00 L603.74,263.55 Z" fill="#d9761c"/>
<path d="M603.74,256.45 L607.29,260.00 L603.74,263.55 L600.19,260.00 Z" fill="none" stroke="#d9761c" stroke-width="0.9"/>
<polyline points="418.30,297.30 464.66,294.90 511.02,293.10 534.20,290.30 557.38,289.20 580.56,285.40 587.51,284.30 603.74,282.90" fill="none" stroke="#1aa9a9" stroke-width="1.3"/>
<circle cx="418.30" cy="297.30" r="2.6" fill="#fff"/>
<rect x="415.60" y="294.60" width="2.70" height="5.40" fill="#1aa9a9"/>
<rect x="415.60" y="294.60" width="5.40" height="5.40" fill="none" stroke="#1aa9a9" stroke-width="0.9"/>
<circle cx="464.66" cy="294.90" r="2.6" fill="#fff"/>
<rect x="461.96" y="292.20" width="2.70" height="5.40" fill="#1aa9a9"/>
<rect x="461.96" y="292.20" width="5.40" height="5.40" fill="none" stroke="#1aa9a9" stroke-width="0.9"/>
<circle cx="511.02" cy="293.10" r="2.6" fill="#fff"/>
<rect x="508.32" y="290.40" width="2.70" height="5.40" fill="#1aa9a9"/>
<rect x="508.32" y="290.40" width="5.40" height="5.40" fill="none" stroke="#1aa9a9" stroke-width="0.9"/>
<circle cx="534.20" cy="290.30" r="2.6" fill="#fff"/>
<rect x="531.50" y="287.60" width="2.70" height="5.40" fill="#1aa9a9"/>
<rect x="531.50" y="287.60" width="5.40" height="5.40" fill="none" stroke="#1aa9a9" stroke-width="0.9"/>
<circle cx="557.38" cy="289.20" r="2.6" fill="#fff"/>
<rect x="554.68" y="286.50" width="2.70" height="5.40" fill="#1aa9a9"/>
<rect x="554.68" y="286.50" width="5.40" height="5.40" fill="none" stroke="#1aa9a9" stroke-width="0.9"/>
<circle cx="580.56" cy="285.40" r="2.6" fill="#fff"/>
<rect x="577.86" y="282.70" width="2.70" height="5.40" fill="#1aa9a9"/>
<rect x="577.86" y="282.70" width="5.40" height="5.40" fill="none" stroke="#1aa9a9" stroke-width="0.9"/>
<circle cx="587.51" cy="284.30" r="2.6" fill="#fff"/>
<rect x="584.81" y="281.60" width="2.70" height="5.40" fill="#1aa9a9"/>
<rect x="584.81" y="281.60" width="5.40" height="5.40" fill="none" stroke="#1aa9a9" stroke-width="0.9"/>
<circle cx="603.74" cy="282.90" r="2.6" fill="#fff"/>
<rect x="601.04" y="280.20" width="2.70" height="5.40" fill="#1aa9a9"/>
<rect x="601.04" y="280.20" width="5.40" height="5.40" fill="none" stroke="#1aa9a9" stroke-width="0.9"/>
<rect x="406.9" y="0.6" width="208.10" height="50.60" fill="none" stroke="#000" stroke-width="1.2"/>
<line x1="418.30" y1="51.2" x2="418.30" y2="49.2" stroke="#000" stroke-width="0.9"/>
<line x1="418.30" y1="0.6" x2="418.30" y2="2.6" stroke="#000" stroke-width="0.9"/>
<line x1="441.48" y1="51.2" x2="441.48" y2="49.2" stroke="#000" stroke-width="0.9"/>
<line x1="441.48" y1="0.6" x2="441.48" y2="2.6" stroke="#000" stroke-width="0.9"/>
<line x1="464.66" y1="51.2" x2="464.66" y2="49.2" stroke="#000" stroke-width="0.9"/>
<line x1="464.66" y1="0.6" x2="464.66" y2="2.6" stroke="#000" stroke-width="0.9"/>
<line x1="487.84" y1="51.2" x2="487.84" y2="49.2" stroke="#000" stroke-width="0.9"/>
<line x1="487.84" y1="0.6" x2="487.84" y2="2.6" stroke="#000" stroke-width="0.9"/>
<line x1="511.02" y1="51.2" x2="511.02" y2="49.2" stroke="#000" stroke-width="0.9"/>
<line x1="511.02" y1="0.6" x2="511.02" y2="2.6" stroke="#000" stroke-width="0.9"/>
<line x1="534.20" y1="51.2" x2="534.20" y2="49.2" stroke="#000" stroke-width="0.9"/>
<line x1="534.20" y1="0.6" x2="534.20" y2="2.6" stroke="#000" stroke-width="0.9"/>
<line x1="557.38" y1="51.2" x2="557.38" y2="49.2" stroke="#000" stroke-width="0.9"/>
<line x1="557.38" y1="0.6" x2="557.38" y2="2.6" stroke="#000" stroke-width="0.9"/>
<line x1="580.56" y1="51.2" x2="580.56" y2="49.2" stroke="#000" stroke-width="0.9"/>
<line x1="580.56" y1="0.6" x2="580.56" y2="2.6" stroke="#000" stroke-width="0.9"/>
<line x1="603.74" y1="51.2" x2="603.74" y2="49.2" stroke="#000" stroke-width="0.9"/>
<line x1="603.74" y1="0.6" x2="603.74" y2="2.6" stroke="#000" stroke-width="0.9"/>
<rect x="406.9" y="51.2" width="208.10" height="50.00" fill="none" stroke="#000" stroke-width="1.2"/>
<line x1="418.30" y1="101.2" x2="418.30" y2="99.2" stroke="#000" stroke-width="0.9"/>
<line x1="418.30" y1="51.2" x2="418.30" y2="53.2" stroke="#000" stroke-width="0.9"/>
<line x1="441.48" y1="101.2" x2="441.48" y2="99.2" stroke="#000" stroke-width="0.9"/>
<line x1="441.48" y1="51.2" x2="441.48" y2="53.2" stroke="#000" stroke-width="0.9"/>
<line x1="464.66" y1="101.2" x2="464.66" y2="99.2" stroke="#000" stroke-width="0.9"/>
<line x1="464.66" y1="51.2" x2="464.66" y2="53.2" stroke="#000" stroke-width="0.9"/>
<line x1="487.84" y1="101.2" x2="487.84" y2="99.2" stroke="#000" stroke-width="0.9"/>
<line x1="487.84" y1="51.2" x2="487.84" y2="53.2" stroke="#000" stroke-width="0.9"/>
<line x1="511.02" y1="101.2" x2="511.02" y2="99.2" stroke="#000" stroke-width="0.9"/>
<line x1="511.02" y1="51.2" x2="511.02" y2="53.2" stroke="#000" stroke-width="0.9"/>
<line x1="534.20" y1="101.2" x2="534.20" y2="99.2" stroke="#000" stroke-width="0.9"/>
<line x1="534.20" y1="51.2" x2="534.20" y2="53.2" stroke="#000" stroke-width="0.9"/>
<line x1="557.38" y1="101.2" x2="557.38" y2="99.2" stroke="#000" stroke-width="0.9"/>
<line x1="557.38" y1="51.2" x2="557.38" y2="53.2" stroke="#000" stroke-width="0.9"/>
<line x1="580.56" y1="101.2" x2="580.56" y2="99.2" stroke="#000" stroke-width="0.9"/>
<line x1="580.56" y1="51.2" x2="580.56" y2="53.2" stroke="#000" stroke-width="0.9"/>
<line x1="603.74" y1="101.2" x2="603.74" y2="99.2" stroke="#000" stroke-width="0.9"/>
<line x1="603.74" y1="51.2" x2="603.74" y2="53.2" stroke="#000" stroke-width="0.9"/>
<rect x="406.9" y="101.2" width="208.10" height="50.50" fill="none" stroke="#000" stroke-width="1.2"/>
<line x1="418.30" y1="151.7" x2="418.30" y2="149.7" stroke="#000" stroke-width="0.9"/>
<line x1="418.30" y1="101.2" x2="418.30" y2="103.2" stroke="#000" stroke-width="0.9"/>
<line x1="441.48" y1="151.7" x2="441.48" y2="149.7" stroke="#000" stroke-width="0.9"/>
<line x1="441.48" y1="101.2" x2="441.48" y2="103.2" stroke="#000" stroke-width="0.9"/>
<line x1="464.66" y1="151.7" x2="464.66" y2="149.7" stroke="#000" stroke-width="0.9"/>
<line x1="464.66" y1="101.2" x2="464.66" y2="103.2" stroke="#000" stroke-width="0.9"/>
<line x1="487.84" y1="151.7" x2="487.84" y2="149.7" stroke="#000" stroke-width="0.9"/>
<line x1="487.84" y1="101.2" x2="487.84" y2="103.2" stroke="#000" stroke-width="0.9"/>
<line x1="511.02" y1="151.7" x2="511.02" y2="149.7" stroke="#000" stroke-width="0.9"/>
<line x1="511.02" y1="101.2" x2="511.02" y2="103.2" stroke="#000" stroke-width="0.9"/>
<line x1="534.20" y1="151.7" x2="534.20" y2="149.7" stroke="#000" stroke-width="0.9"/>
<line x1="534.20" y1="101.2" x2="534.20" y2="103.2" stroke="#000" stroke-width="0.9"/>
<line x1="557.38" y1="151.7" x2="557.38" y2="149.7" stroke="#000" stroke-width="0.9"/>
<line x1="557.38" y1="101.2" x2="557.38" y2="103.2" stroke="#000" stroke-width="0.9"/>
<line x1="580.56" y1="151.7" x2="580.56" y2="149.7" stroke="#000" stroke-width="0.9"/>
<line x1="580.56" y1="101.2" x2="580.56" y2="103.2" stroke="#000" stroke-width="0.9"/>
<line x1="603.74" y1="151.7" x2="603.74" y2="149.7" stroke="#000" stroke-width="0.9"/>
<line x1="603.74" y1="101.2" x2="603.74" y2="103.2" stroke="#000" stroke-width="0.9"/>
<rect x="406.9" y="151.7" width="208.10" height="50.80" fill="none" stroke="#000" stroke-width="1.2"/>
<line x1="418.30" y1="202.5" x2="418.30" y2="200.5" stroke="#000" stroke-width="0.9"/>
<line x1="418.30" y1="151.7" x2="418.30" y2="153.7" stroke="#000" stroke-width="0.9"/>
<line x1="441.48" y1="202.5" x2="441.48" y2="200.5" stroke="#000" stroke-width="0.9"/>
<line x1="441.48" y1="151.7" x2="441.48" y2="153.7" stroke="#000" stroke-width="0.9"/>
<line x1="464.66" y1="202.5" x2="464.66" y2="200.5" stroke="#000" stroke-width="0.9"/>
<line x1="464.66" y1="151.7" x2="464.66" y2="153.7" stroke="#000" stroke-width="0.9"/>
<line x1="487.84" y1="202.5" x2="487.84" y2="200.5" stroke="#000" stroke-width="0.9"/>
<line x1="487.84" y1="151.7" x2="487.84" y2="153.7" stroke="#000" stroke-width="0.9"/>
<line x1="511.02" y1="202.5" x2="511.02" y2="200.5" stroke="#000" stroke-width="0.9"/>
<line x1="511.02" y1="151.7" x2="511.02" y2="153.7" stroke="#000" stroke-width="0.9"/>
<line x1="534.20" y1="202.5" x2="534.20" y2="200.5" stroke="#000" stroke-width="0.9"/>
<line x1="534.20" y1="151.7" x2="534.20" y2="153.7" stroke="#000" stroke-width="0.9"/>
<line x1="557.38" y1="202.5" x2="557.38" y2="200.5" stroke="#000" stroke-width="0.9"/>
<line x1="557.38" y1="151.7" x2="557.38" y2="153.7" stroke="#000" stroke-width="0.9"/>
<line x1="580.56" y1="202.5" x2="580.56" y2="200.5" stroke="#000" stroke-width="0.9"/>
<line x1="580.56" y1="151.7" x2="580.56" y2="153.7" stroke="#000" stroke-width="0.9"/>
<line x1="603.74" y1="202.5" x2="603.74" y2="200.5" stroke="#000" stroke-width="0.9"/>
<line x1="603.74" y1="151.7" x2="603.74" y2="153.7" stroke="#000" stroke-width="0.9"/>
<rect x="406.9" y="202.5" width="208.10" height="50.40" fill="none" stroke="#000" stroke-width="1.2"/>
<line x1="418.30" y1="252.9" x2="418.30" y2="250.9" stroke="#000" stroke-width="0.9"/>
<line x1="418.30" y1="202.5" x2="418.30" y2="204.5" stroke="#000" stroke-width="0.9"/>
<line x1="441.48" y1="252.9" x2="441.48" y2="250.9" stroke="#000" stroke-width="0.9"/>
<line x1="441.48" y1="202.5" x2="441.48" y2="204.5" stroke="#000" stroke-width="0.9"/>
<line x1="464.66" y1="252.9" x2="464.66" y2="250.9" stroke="#000" stroke-width="0.9"/>
<line x1="464.66" y1="202.5" x2="464.66" y2="204.5" stroke="#000" stroke-width="0.9"/>
<line x1="487.84" y1="252.9" x2="487.84" y2="250.9" stroke="#000" stroke-width="0.9"/>
<line x1="487.84" y1="202.5" x2="487.84" y2="204.5" stroke="#000" stroke-width="0.9"/>
<line x1="511.02" y1="252.9" x2="511.02" y2="250.9" stroke="#000" stroke-width="0.9"/>
<line x1="511.02" y1="202.5" x2="511.02" y2="204.5" stroke="#000" stroke-width="0.9"/>
<line x1="534.20" y1="252.9" x2="534.20" y2="250.9" stroke="#000" stroke-width="0.9"/>
<line x1="534.20" y1="202.5" x2="534.20" y2="204.5" stroke="#000" stroke-width="0.9"/>
<line x1="557.38" y1="252.9" x2="557.38" y2="250.9" stroke="#000" stroke-width="0.9"/>
<line x1="557.38" y1="202.5" x2="557.38" y2="204.5" stroke="#000" stroke-width="0.9"/>
<line x1="580.56" y1="252.9" x2="580.56" y2="250.9" stroke="#000" stroke-width="0.9"/>
<line x1="580.56" y1="202.5" x2="580.56" y2="204.5" stroke="#000" stroke-width="0.9"/>
<line x1="603.74" y1="252.9" x2="603.74" y2="250.9" stroke="#000" stroke-width="0.9"/>
<line x1="603.74" y1="202.5" x2="603.74" y2="204.5" stroke="#000" stroke-width="0.9"/>
<rect x="406.9" y="252.9" width="208.10" height="50.40" fill="none" stroke="#000" stroke-width="1.2"/>
<line x1="418.30" y1="303.3" x2="418.30" y2="306.5" stroke="#000" stroke-width="1.0"/>
<line x1="418.30" y1="252.9" x2="418.30" y2="254.9" stroke="#000" stroke-width="0.9"/>
<line x1="441.48" y1="303.3" x2="441.48" y2="306.5" stroke="#000" stroke-width="1.0"/>
<line x1="441.48" y1="252.9" x2="441.48" y2="254.9" stroke="#000" stroke-width="0.9"/>
<line x1="464.66" y1="303.3" x2="464.66" y2="306.5" stroke="#000" stroke-width="1.0"/>
<line x1="464.66" y1="252.9" x2="464.66" y2="254.9" stroke="#000" stroke-width="0.9"/>
<line x1="487.84" y1="303.3" x2="487.84" y2="306.5" stroke="#000" stroke-width="1.0"/>
<line x1="487.84" y1="252.9" x2="487.84" y2="254.9" stroke="#000" stroke-width="0.9"/>
<line x1="511.02" y1="303.3" x2="511.02" y2="306.5" stroke="#000" stroke-width="1.0"/>
<line x1="511.02" y1="252.9" x2="511.02" y2="254.9" stroke="#000" stroke-width="0.9"/>
<line x1="534.20" y1="303.3" x2="534.20" y2="306.5" stroke="#000" stroke-width="1.0"/>
<line x1="534.20" y1="252.9" x2="534.20" y2="254.9" stroke="#000" stroke-width="0.9"/>
<line x1="557.38" y1="303.3" x2="557.38" y2="306.5" stroke="#000" stroke-width="1.0"/>
<line x1="557.38" y1="252.9" x2="557.38" y2="254.9" stroke="#000" stroke-width="0.9"/>
<line x1="580.56" y1="303.3" x2="580.56" y2="306.5" stroke="#000" stroke-width="1.0"/>
<line x1="580.56" y1="252.9" x2="580.56" y2="254.9" stroke="#000" stroke-width="0.9"/>
<line x1="603.74" y1="303.3" x2="603.74" y2="306.5" stroke="#000" stroke-width="1.0"/>
<line x1="603.74" y1="252.9" x2="603.74" y2="254.9" stroke="#000" stroke-width="0.9"/>
<line x1="406.9" y1="8.4" x2="409.5" y2="8.4" stroke="#000" stroke-width="0.8"/>
<line x1="615.0" y1="8.4" x2="612.4" y2="8.4" stroke="#000" stroke-width="0.8"/>
<text transform="translate(404.6,10.70) scale(0.85,1)" font-size="8.8" font-weight="bold" text-anchor="end">150</text>
<line x1="406.9" y1="20.1" x2="409.5" y2="20.1" stroke="#000" stroke-width="0.8"/>
<line x1="615.0" y1="20.1" x2="612.4" y2="20.1" stroke="#000" stroke-width="0.8"/>
<text transform="translate(404.6,22.40) scale(0.85,1)" font-size="8.8" font-weight="bold" text-anchor="end">144</text>
<line x1="406.9" y1="31.9" x2="409.5" y2="31.9" stroke="#000" stroke-width="0.8"/>
<line x1="615.0" y1="31.9" x2="612.4" y2="31.9" stroke="#000" stroke-width="0.8"/>
<text transform="translate(404.6,34.20) scale(0.85,1)" font-size="8.8" font-weight="bold" text-anchor="end">138</text>
<line x1="406.9" y1="43.6" x2="409.5" y2="43.6" stroke="#000" stroke-width="0.8"/>
<line x1="615.0" y1="43.6" x2="612.4" y2="43.6" stroke="#000" stroke-width="0.8"/>
<text transform="translate(404.6,45.90) scale(0.85,1)" font-size="8.8" font-weight="bold" text-anchor="end">132</text>
<line x1="406.9" y1="14.25" x2="408.5" y2="14.25" stroke="#000" stroke-width="0.8"/>
<line x1="615.0" y1="14.25" x2="613.4" y2="14.25" stroke="#000" stroke-width="0.8"/>
<line x1="406.9" y1="26" x2="408.5" y2="26" stroke="#000" stroke-width="0.8"/>
<line x1="615.0" y1="26" x2="613.4" y2="26" stroke="#000" stroke-width="0.8"/>
<line x1="406.9" y1="37.75" x2="408.5" y2="37.75" stroke="#000" stroke-width="0.8"/>
<line x1="615.0" y1="37.75" x2="613.4" y2="37.75" stroke="#000" stroke-width="0.8"/>
<line x1="406.9" y1="2.55" x2="408.5" y2="2.55" stroke="#000" stroke-width="0.8"/>
<line x1="615.0" y1="2.55" x2="613.4" y2="2.55" stroke="#000" stroke-width="0.8"/>
<line x1="406.9" y1="49.45" x2="408.5" y2="49.45" stroke="#000" stroke-width="0.8"/>
<line x1="615.0" y1="49.45" x2="613.4" y2="49.45" stroke="#000" stroke-width="0.8"/>
<line x1="406.9" y1="57.5" x2="409.5" y2="57.5" stroke="#000" stroke-width="0.8"/>
<line x1="615.0" y1="57.5" x2="612.4" y2="57.5" stroke="#000" stroke-width="0.8"/>
<text transform="translate(404.6,59.80) scale(0.85,1)" font-size="8.8" font-weight="bold" text-anchor="end">340</text>
<line x1="406.9" y1="66.6" x2="409.5" y2="66.6" stroke="#000" stroke-width="0.8"/>
<line x1="615.0" y1="66.6" x2="612.4" y2="66.6" stroke="#000" stroke-width="0.8"/>
<text transform="translate(404.6,68.90) scale(0.85,1)" font-size="8.8" font-weight="bold" text-anchor="end">320</text>
<line x1="406.9" y1="62.05" x2="408.5" y2="62.05" stroke="#000" stroke-width="0.8"/>
<line x1="615.0" y1="62.05" x2="613.4" y2="62.05" stroke="#000" stroke-width="0.8"/>
<line x1="406.9" y1="53" x2="408.5" y2="53" stroke="#000" stroke-width="0.8"/>
<line x1="615.0" y1="53" x2="613.4" y2="53" stroke="#000" stroke-width="0.8"/>
<line x1="406.9" y1="71.1" x2="408.5" y2="71.1" stroke="#000" stroke-width="0.8"/>
<line x1="615.0" y1="71.1" x2="613.4" y2="71.1" stroke="#000" stroke-width="0.8"/>
<line x1="406.9" y1="80.6" x2="409.5" y2="80.6" stroke="#000" stroke-width="0.8"/>
<line x1="615.0" y1="80.6" x2="612.4" y2="80.6" stroke="#000" stroke-width="0.8"/>
<text transform="translate(404.6,82.90) scale(0.85,1)" font-size="8.8" font-weight="bold" text-anchor="end">250</text>
<line x1="406.9" y1="88.8" x2="409.5" y2="88.8" stroke="#000" stroke-width="0.8"/>
<line x1="615.0" y1="88.8" x2="612.4" y2="88.8" stroke="#000" stroke-width="0.8"/>
<text transform="translate(404.6,91.10) scale(0.85,1)" font-size="8.8" font-weight="bold" text-anchor="end">240</text>
<line x1="406.9" y1="96.3" x2="409.5" y2="96.3" stroke="#000" stroke-width="0.8"/>
<line x1="615.0" y1="96.3" x2="612.4" y2="96.3" stroke="#000" stroke-width="0.8"/>
<text transform="translate(404.6,98.60) scale(0.85,1)" font-size="8.8" font-weight="bold" text-anchor="end">230</text>
<line x1="406.9" y1="84.7" x2="408.5" y2="84.7" stroke="#000" stroke-width="0.8"/>
<line x1="615.0" y1="84.7" x2="613.4" y2="84.7" stroke="#000" stroke-width="0.8"/>
<line x1="406.9" y1="92.5" x2="408.5" y2="92.5" stroke="#000" stroke-width="0.8"/>
<line x1="615.0" y1="92.5" x2="613.4" y2="92.5" stroke="#000" stroke-width="0.8"/>
<line x1="406.9" y1="100" x2="408.5" y2="100" stroke="#000" stroke-width="0.8"/>
<line x1="615.0" y1="100" x2="613.4" y2="100" stroke="#000" stroke-width="0.8"/>
<line x1="406.9" y1="109.8" x2="409.5" y2="109.8" stroke="#000" stroke-width="0.8"/>
<line x1="615.0" y1="109.8" x2="612.4" y2="109.8" stroke="#000" stroke-width="0.8"/>
<text transform="translate(404.6,112.10) scale(0.85,1)" font-size="8.8" font-weight="bold" text-anchor="end">600</text>
<line x1="406.9" y1="127.3" x2="409.5" y2="127.3" stroke="#000" stroke-width="0.8"/>
<line x1="615.0" y1="127.3" x2="612.4" y2="127.3" stroke="#000" stroke-width="0.8"/>
<text transform="translate(404.6,129.60) scale(0.85,1)" font-size="8.8" font-weight="bold" text-anchor="end">545</text>
<line x1="406.9" y1="142.1" x2="409.5" y2="142.1" stroke="#000" stroke-width="0.8"/>
<line x1="615.0" y1="142.1" x2="612.4" y2="142.1" stroke="#000" stroke-width="0.8"/>
<text transform="translate(404.6,144.40) scale(0.85,1)" font-size="8.8" font-weight="bold" text-anchor="end">470</text>
<line x1="406.9" y1="105.2" x2="408.5" y2="105.2" stroke="#000" stroke-width="0.8"/>
<line x1="615.0" y1="105.2" x2="613.4" y2="105.2" stroke="#000" stroke-width="0.8"/>
<line x1="406.9" y1="114.4" x2="408.5" y2="114.4" stroke="#000" stroke-width="0.8"/>
<line x1="615.0" y1="114.4" x2="613.4" y2="114.4" stroke="#000" stroke-width="0.8"/>
<line x1="406.9" y1="123" x2="408.5" y2="123" stroke="#000" stroke-width="0.8"/>
<line x1="615.0" y1="123" x2="613.4" y2="123" stroke="#000" stroke-width="0.8"/>
<line x1="406.9" y1="131.6" x2="408.5" y2="131.6" stroke="#000" stroke-width="0.8"/>
<line x1="615.0" y1="131.6" x2="613.4" y2="131.6" stroke="#000" stroke-width="0.8"/>
<line x1="406.9" y1="138.7" x2="408.5" y2="138.7" stroke="#000" stroke-width="0.8"/>
<line x1="615.0" y1="138.7" x2="613.4" y2="138.7" stroke="#000" stroke-width="0.8"/>
<line x1="406.9" y1="146.5" x2="408.5" y2="146.5" stroke="#000" stroke-width="0.8"/>
<line x1="615.0" y1="146.5" x2="613.4" y2="146.5" stroke="#000" stroke-width="0.8"/>
<line x1="406.9" y1="161.9" x2="409.5" y2="161.9" stroke="#000" stroke-width="0.8"/>
<line x1="615.0" y1="161.9" x2="612.4" y2="161.9" stroke="#000" stroke-width="0.8"/>
<text transform="translate(404.6,164.20) scale(0.85,1)" font-size="8.8" font-weight="bold" text-anchor="end">720</text>
<line x1="406.9" y1="180.2" x2="409.5" y2="180.2" stroke="#000" stroke-width="0.8"/>
<line x1="615.0" y1="180.2" x2="612.4" y2="180.2" stroke="#000" stroke-width="0.8"/>
<text transform="translate(404.6,182.50) scale(0.85,1)" font-size="8.8" font-weight="bold" text-anchor="end">690</text>
<line x1="406.9" y1="199.1" x2="409.5" y2="199.1" stroke="#000" stroke-width="0.8"/>
<line x1="615.0" y1="199.1" x2="612.4" y2="199.1" stroke="#000" stroke-width="0.8"/>
<text transform="translate(404.6,201.40) scale(0.85,1)" font-size="8.8" font-weight="bold" text-anchor="end">660</text>
<line x1="406.9" y1="171" x2="408.5" y2="171" stroke="#000" stroke-width="0.8"/>
<line x1="615.0" y1="171" x2="613.4" y2="171" stroke="#000" stroke-width="0.8"/>
<line x1="406.9" y1="189.6" x2="408.5" y2="189.6" stroke="#000" stroke-width="0.8"/>
<line x1="615.0" y1="189.6" x2="613.4" y2="189.6" stroke="#000" stroke-width="0.8"/>
<line x1="406.9" y1="152.8" x2="408.5" y2="152.8" stroke="#000" stroke-width="0.8"/>
<line x1="615.0" y1="152.8" x2="613.4" y2="152.8" stroke="#000" stroke-width="0.8"/>
<line x1="406.9" y1="217.3" x2="409.5" y2="217.3" stroke="#000" stroke-width="0.8"/>
<line x1="615.0" y1="217.3" x2="612.4" y2="217.3" stroke="#000" stroke-width="0.8"/>
<text transform="translate(404.6,219.60) scale(0.85,1)" font-size="8.8" font-weight="bold" text-anchor="end">800</text>
<line x1="406.9" y1="237.4" x2="409.5" y2="237.4" stroke="#000" stroke-width="0.8"/>
<line x1="615.0" y1="237.4" x2="612.4" y2="237.4" stroke="#000" stroke-width="0.8"/>
<text transform="translate(404.6,239.70) scale(0.85,1)" font-size="8.8" font-weight="bold" text-anchor="end">775</text>
<line x1="406.9" y1="227.3" x2="408.5" y2="227.3" stroke="#000" stroke-width="0.8"/>
<line x1="615.0" y1="227.3" x2="613.4" y2="227.3" stroke="#000" stroke-width="0.8"/>
<line x1="406.9" y1="247.4" x2="408.5" y2="247.4" stroke="#000" stroke-width="0.8"/>
<line x1="615.0" y1="247.4" x2="613.4" y2="247.4" stroke="#000" stroke-width="0.8"/>
<line x1="406.9" y1="207.2" x2="408.5" y2="207.2" stroke="#000" stroke-width="0.8"/>
<line x1="615.0" y1="207.2" x2="613.4" y2="207.2" stroke="#000" stroke-width="0.8"/>
<line x1="406.9" y1="255.1" x2="409.5" y2="255.1" stroke="#000" stroke-width="0.8"/>
<line x1="615.0" y1="255.1" x2="612.4" y2="255.1" stroke="#000" stroke-width="0.8"/>
<text transform="translate(404.6,257.40) scale(0.85,1)" font-size="8.8" font-weight="bold" text-anchor="end">1200</text>
<line x1="406.9" y1="274.7" x2="409.5" y2="274.7" stroke="#000" stroke-width="0.8"/>
<line x1="615.0" y1="274.7" x2="612.4" y2="274.7" stroke="#000" stroke-width="0.8"/>
<text transform="translate(404.6,277.00) scale(0.85,1)" font-size="8.8" font-weight="bold" text-anchor="end">1160</text>
<line x1="406.9" y1="287.7" x2="409.5" y2="287.7" stroke="#000" stroke-width="0.8"/>
<line x1="615.0" y1="287.7" x2="612.4" y2="287.7" stroke="#000" stroke-width="0.8"/>
<text transform="translate(404.6,290.00) scale(0.85,1)" font-size="8.8" font-weight="bold" text-anchor="end">1050</text>
<line x1="406.9" y1="302.6" x2="409.5" y2="302.6" stroke="#000" stroke-width="0.8"/>
<line x1="615.0" y1="302.6" x2="612.4" y2="302.6" stroke="#000" stroke-width="0.8"/>
<text transform="translate(404.6,304.90) scale(0.85,1)" font-size="8.8" font-weight="bold" text-anchor="end">1025</text>
<line x1="406.9" y1="265" x2="408.5" y2="265" stroke="#000" stroke-width="0.8"/>
<line x1="615.0" y1="265" x2="613.4" y2="265" stroke="#000" stroke-width="0.8"/>
<line x1="406.9" y1="295" x2="408.5" y2="295" stroke="#000" stroke-width="0.8"/>
<line x1="615.0" y1="295" x2="613.4" y2="295" stroke="#000" stroke-width="0.8"/>
<line x1="405.4" y1="77.4" x2="408.4" y2="75.0" stroke="#000" stroke-width="1.2"/>
<line x1="613.5" y1="77.4" x2="616.5" y2="75.0" stroke="#000" stroke-width="1.2"/>
<line x1="405.4" y1="119.2" x2="408.4" y2="116.8" stroke="#000" stroke-width="1.2"/>
<line x1="613.5" y1="119.2" x2="616.5" y2="116.8" stroke="#000" stroke-width="1.2"/>
<line x1="405.4" y1="136.7" x2="408.4" y2="134.3" stroke="#000" stroke-width="1.2"/>
<line x1="613.5" y1="136.7" x2="616.5" y2="134.3" stroke="#000" stroke-width="1.2"/>
<line x1="405.4" y1="280.2" x2="408.4" y2="277.8" stroke="#000" stroke-width="1.2"/>
<line x1="613.5" y1="280.2" x2="616.5" y2="277.8" stroke="#000" stroke-width="1.2"/>
<text x="416.6" y="16" font-size="9.3" font-weight="bold">Shifts of A-site ions</text>
<text x="416.9" y="81.4" font-size="9.3" font-weight="bold">Rotations of the oxygen cage</text>
<text x="416.9" y="125.6" font-size="9.3" font-weight="bold">Ti-O torsional modes</text>
<text x="416.9" y="167.7" font-size="9.3" font-weight="bold">Ti–O stretching mode</text>
<text x="416.9" y="215" font-size="9.3" font-weight="bold">Short-range order of the B-site</text>
<text x="416.1" y="286.8" font-size="9.3" font-weight="bold">Unknown</text>
<text transform="translate(609.2,26.9) scale(0.92,1)" font-size="10.2" font-weight="bold" text-anchor="end">M1</text>
<text transform="translate(609.2,68.7) scale(0.92,1)" font-size="10.2" font-weight="bold" text-anchor="end">M3</text>
<text transform="translate(609.2,94.2) scale(0.92,1)" font-size="10.2" font-weight="bold" text-anchor="end">M2</text>
<text transform="translate(609.2,117.7) scale(0.92,1)" font-size="10.2" font-weight="bold" text-anchor="end">M6</text>
<text transform="translate(609.2,135.4) scale(0.92,1)" font-size="10.2" font-weight="bold" text-anchor="end">M5</text>
<text transform="translate(609.2,172.5) scale(0.92,1)" font-size="10.2" font-weight="bold" text-anchor="end">M7</text>
<text transform="translate(609.2,227.9) scale(0.92,1)" font-size="10.2" font-weight="bold" text-anchor="end">M8</text>
<text transform="translate(609.2,275) scale(0.92,1)" font-size="10.2" font-weight="bold" text-anchor="end">M9</text>
<text transform="translate(609.2,295.5) scale(0.92,1)" font-size="10.2" font-weight="bold" text-anchor="end">M10</text>
<text transform="translate(562.4,139.8) scale(0.92,1)" font-size="10.2" font-weight="bold">M4</text>
<text x="418.30" y="317" font-size="10.6" font-weight="bold" text-anchor="middle">0.0</text>
<text x="441.48" y="317" font-size="10.6" font-weight="bold" text-anchor="middle">0.1</text>
<text x="464.66" y="317" font-size="10.6" font-weight="bold" text-anchor="middle">0.2</text>
<text x="487.84" y="317" font-size="10.6" font-weight="bold" text-anchor="middle">0.3</text>
<text x="511.02" y="317" font-size="10.6" font-weight="bold" text-anchor="middle">0.4</text>
<text x="534.20" y="317" font-size="10.6" font-weight="bold" text-anchor="middle">0.5</text>
<text x="557.38" y="317" font-size="10.6" font-weight="bold" text-anchor="middle">0.6</text>
<text x="580.56" y="317" font-size="10.6" font-weight="bold" text-anchor="middle">0.7</text>
<text x="603.74" y="317" font-size="10.6" font-weight="bold" text-anchor="middle">0.8</text>
<text x="511.2" y="331.3" font-size="12.8" font-weight="bold" text-anchor="middle"><tspan font-style="italic">x</tspan> (mol)</text>
<text transform="translate(384.9,203.6) rotate(-90)" font-size="13.65" font-weight="bold">Raman shift (cm<tspan dy="-4.5" font-size="8.5">-1</tspan><tspan dy="4.5">)</tspan></text>
<text x="368.4" y="17.9" font-size="15.6" font-weight="bold">(b)</text>
</svg>
</body></html>
